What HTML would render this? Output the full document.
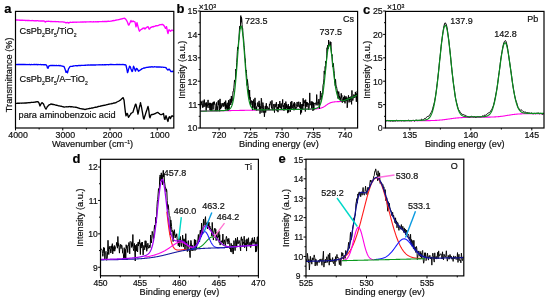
<!DOCTYPE html>
<html><head><meta charset="utf-8"><title>Figure</title>
<style>html,body{margin:0;padding:0;background:#fff;}svg{display:block;font-family:'Liberation Sans', Arial, sans-serif;}</style>
</head><body>
<svg width="550" height="303" viewBox="0 0 550 303">
<rect width="550" height="303" fill="#fff"/>
<polyline points="15.50,20.14 16.00,19.98 16.50,20.04 17.00,20.09 17.50,20.02 18.00,20.10 18.50,20.12 19.00,20.00 19.50,20.25 20.00,20.23 20.50,20.16 21.00,20.21 21.50,20.29 22.00,20.25 22.50,20.27 23.00,20.19 23.50,20.38 24.00,20.36 24.50,20.39 25.00,20.27 25.50,20.55 26.00,20.45 26.50,20.42 27.00,20.64 27.50,20.49 28.00,20.40 28.50,20.51 29.00,20.38 29.50,20.66 30.00,20.57 30.50,20.56 31.00,20.72 31.50,20.51 32.00,20.70 32.50,20.51 33.00,20.64 33.50,20.61 34.00,20.84 34.50,20.88 35.00,20.73 35.50,20.84 36.00,20.77 36.50,20.85 37.00,20.76 37.50,20.69 38.00,20.70 38.50,20.89 39.00,21.06 39.50,20.91 40.00,20.87 40.50,21.08 41.00,20.96 41.50,20.96 42.00,20.99 42.50,20.97 43.00,20.98 43.50,20.95 44.00,21.17 44.50,21.19 45.00,21.92 45.50,21.99 46.00,21.42 46.50,21.30 47.00,21.46 47.50,21.31 48.00,21.29 48.50,21.28 49.00,21.31 49.50,21.39 50.00,21.33 50.50,21.56 51.00,21.44 51.50,21.49 52.00,21.61 52.50,21.63 53.00,21.51 53.50,21.57 54.00,21.62 54.50,21.57 55.00,21.46 55.50,21.67 56.00,21.72 56.50,21.70 57.00,21.62 57.50,21.70 58.00,21.69 58.50,21.73 59.00,21.88 59.50,21.92 60.00,21.88 60.50,21.89 61.00,21.92 61.50,21.89 62.00,21.91 62.50,21.88 63.00,21.95 63.50,22.16 64.00,22.07 64.50,22.20 65.00,22.41 65.50,22.61 66.00,22.93 66.50,22.76 67.00,22.45 67.50,22.44 68.00,22.65 68.50,23.11 69.00,22.78 69.50,22.67 70.00,22.26 70.50,22.27 71.00,22.30 71.50,22.35 72.00,22.31 72.50,22.15 73.00,22.25 73.50,22.23 74.00,22.19 74.50,22.16 75.00,22.34 75.50,22.16 76.00,22.11 76.50,22.22 77.00,22.17 77.50,22.14 78.00,22.20 78.50,22.17 79.00,22.15 79.50,22.19 80.00,22.12 80.50,22.04 81.00,22.05 81.50,22.03 82.00,22.08 82.50,21.96 83.00,21.89 83.50,22.04 84.00,21.91 84.50,21.85 85.00,22.03 85.50,21.93 86.00,22.02 86.50,21.93 87.00,21.87 87.50,21.85 88.00,21.90 88.50,21.91 89.00,21.85 89.50,21.89 90.00,21.78 90.50,21.89 91.00,21.74 91.50,21.85 92.00,21.92 92.50,21.94 93.00,21.98 93.50,21.71 94.00,21.88 94.50,21.91 95.00,21.88 95.50,21.71 96.00,21.80 96.50,21.90 97.00,21.61 97.50,21.75 98.00,21.79 98.50,21.63 99.00,21.71 99.50,21.56 100.00,21.57 100.50,21.55 101.00,21.62 101.50,21.58 102.00,21.64 102.50,21.47 103.00,21.52 103.50,21.59 104.00,21.54 104.50,21.38 105.00,21.52 105.50,21.41 106.00,21.46 106.50,21.44 107.00,21.50 107.50,21.39 108.00,21.22 108.50,21.24 109.00,21.39 109.50,21.30 110.00,21.39 110.50,21.23 111.00,21.05 111.50,21.11 112.00,20.86 112.50,20.67 113.00,20.90 113.50,20.49 114.00,20.60 114.50,20.53 115.00,20.37 115.50,20.13 116.00,20.26 116.50,19.97 117.00,19.88 117.50,19.86 118.00,19.86 118.50,19.70 119.00,19.61 119.50,19.39 120.00,19.29 120.50,19.08 121.00,19.02 121.50,18.97 122.00,18.78 122.50,18.72 123.00,18.52 123.50,18.41 124.00,18.34 124.50,18.21 125.00,18.62 125.50,19.05 126.00,19.64 126.50,20.35 127.00,21.27 127.50,22.27 128.00,23.68 128.50,25.06 129.00,25.07 129.50,23.70 130.00,22.75 130.50,21.64 131.00,20.46 131.50,21.47 132.00,21.90 132.50,21.35 133.00,20.96 133.50,21.47 134.00,21.69 134.50,21.70 135.00,22.06 135.50,24.32 136.00,26.89 136.50,24.73 137.00,22.59 137.50,24.59 138.00,26.62 138.50,28.40 139.00,30.13 139.50,31.18 140.00,30.43 140.50,30.00 141.00,29.53 141.50,29.24 142.00,29.07 142.50,28.42 143.00,28.56 143.50,28.03 144.00,27.90 144.50,28.22 145.00,29.04 145.50,28.61 146.00,27.79 146.50,27.37 147.00,27.21 147.50,26.93 148.00,26.70 148.50,27.51 149.00,28.95 149.50,29.13 150.00,28.35 150.50,27.51 151.00,27.36 151.50,27.23 152.00,26.89 152.50,26.69 153.00,26.95 153.50,26.43 154.00,26.51 154.50,26.43 155.00,26.34 155.50,25.94 156.00,25.65 156.50,25.87 157.00,25.71 157.50,25.73 158.00,25.57 158.50,25.37 159.00,25.07 159.50,24.86 160.00,24.66 160.50,24.70 161.00,24.72 161.50,24.69 162.00,24.46 162.50,24.32 163.00,24.60 163.50,25.24 164.00,25.39 164.50,26.64 165.00,27.33 165.50,28.38 166.00,27.44 166.50,26.59 167.00,29.01 167.50,31.90 168.00,33.49 168.50,31.16 169.00,29.76 169.50,30.33 170.00,30.84 170.50,31.25 171.00,30.90 171.50,30.19 172.00,30.15 172.50,30.16 173.00,30.59 173.50,31.14" fill="none" stroke="#ff00ff" stroke-width="1.35" stroke-linejoin="round" />
<polyline points="15.50,64.43 16.00,64.38 16.50,64.49 17.00,64.57 17.50,64.48 18.00,64.46 18.50,64.55 19.00,64.29 19.50,64.46 20.00,64.41 20.50,64.54 21.00,64.46 21.50,64.44 22.00,64.50 22.50,64.41 23.00,64.53 23.50,64.48 24.00,64.50 24.50,64.48 25.00,64.61 25.50,64.53 26.00,64.58 26.50,64.58 27.00,64.48 27.50,64.59 28.00,64.58 28.50,64.58 29.00,64.52 29.50,64.52 30.00,64.62 30.50,64.74 31.00,64.50 31.50,64.61 32.00,64.54 32.50,64.63 33.00,64.61 33.50,64.66 34.00,64.35 34.50,64.53 35.00,64.50 35.50,64.57 36.00,64.53 36.50,64.53 37.00,64.64 37.50,64.74 38.00,64.37 38.50,64.57 39.00,64.62 39.50,64.60 40.00,64.57 40.50,64.51 41.00,64.56 41.50,64.71 42.00,64.75 42.50,64.69 43.00,64.63 43.50,64.72 44.00,64.71 44.50,64.79 45.00,64.78 45.50,64.73 46.00,64.82 46.50,65.31 47.00,66.07 47.50,67.97 48.00,68.31 48.50,66.93 49.00,65.84 49.50,65.79 50.00,65.57 50.50,65.49 51.00,65.59 51.50,65.48 52.00,65.47 52.50,65.48 53.00,65.52 53.50,65.51 54.00,65.55 54.50,65.50 55.00,65.61 55.50,65.64 56.00,65.52 56.50,65.45 57.00,65.63 57.50,65.67 58.00,65.57 58.50,65.48 59.00,65.61 59.50,65.72 60.00,65.45 60.50,65.75 61.00,65.80 61.50,65.87 62.00,66.09 62.50,66.06 63.00,66.30 63.50,66.49 64.00,66.51 64.50,67.78 65.00,69.05 65.50,70.61 66.00,72.35 66.50,71.38 67.00,71.19 67.50,72.92 68.00,70.90 68.50,68.91 69.00,68.14 69.50,67.23 70.00,66.63 70.50,66.37 71.00,66.30 71.50,66.31 72.00,66.34 72.50,66.26 73.00,66.04 73.50,66.03 74.00,65.95 74.50,65.91 75.00,65.82 75.50,65.70 76.00,65.65 76.50,65.73 77.00,65.60 77.50,65.78 78.00,65.64 78.50,65.53 79.00,65.56 79.50,65.52 80.00,65.52 80.50,65.58 81.00,65.36 81.50,65.30 82.00,65.45 82.50,65.39 83.00,65.39 83.50,65.38 84.00,65.31 84.50,65.36 85.00,65.20 85.50,65.25 86.00,65.15 86.50,65.10 87.00,65.21 87.50,65.18 88.00,64.95 88.50,64.99 89.00,65.08 89.50,65.11 90.00,64.95 90.50,64.98 91.00,64.87 91.50,65.17 92.00,65.00 92.50,65.02 93.00,64.99 93.50,65.00 94.00,64.97 94.50,64.88 95.00,64.96 95.50,64.90 96.00,64.98 96.50,64.81 97.00,64.82 97.50,64.90 98.00,64.94 98.50,64.84 99.00,64.76 99.50,64.80 100.00,64.76 100.50,64.94 101.00,64.85 101.50,64.87 102.00,64.78 102.50,64.71 103.00,64.83 103.50,64.86 104.00,64.77 104.50,64.71 105.00,64.79 105.50,64.66 106.00,64.74 106.50,64.61 107.00,64.58 107.50,64.70 108.00,64.67 108.50,64.78 109.00,64.60 109.50,64.61 110.00,64.51 110.50,64.45 111.00,64.45 111.50,64.62 112.00,64.49 112.50,64.67 113.00,64.69 113.50,64.55 114.00,64.70 114.50,64.58 115.00,64.65 115.50,64.54 116.00,64.63 116.50,64.47 117.00,64.59 117.50,64.50 118.00,64.52 118.50,64.58 119.00,64.54 119.50,64.51 120.00,64.57 120.50,64.58 121.00,64.40 121.50,64.55 122.00,64.55 122.50,64.48 123.00,64.61 123.50,64.51 124.00,64.77 124.50,64.67 125.00,64.72 125.50,64.87 126.00,65.26 126.50,67.52 127.00,69.91 127.50,72.69 128.00,71.67 128.50,69.36 129.00,67.91 129.50,66.24 130.00,66.31 130.50,67.52 131.00,69.01 131.50,70.25 132.00,71.61 132.50,71.16 133.00,68.89 133.50,66.26 134.00,67.16 134.50,68.44 135.00,69.90 135.50,71.16 136.00,69.64 136.50,68.33 137.00,68.59 137.50,69.38 138.00,70.19 138.50,71.26 139.00,70.78 139.50,70.70 140.00,70.11 140.50,69.88 141.00,69.45 141.50,69.29 142.00,68.66 142.50,68.59 143.00,68.41 143.50,68.21 144.00,67.91 144.50,67.96 145.00,68.04 145.50,67.75 146.00,67.51 146.50,67.38 147.00,67.33 147.50,67.35 148.00,67.21 148.50,67.23 149.00,67.04 149.50,67.10 150.00,66.95 150.50,67.00 151.00,66.96 151.50,66.95 152.00,66.68 152.50,66.84 153.00,67.10 153.50,66.98 154.00,66.82 154.50,66.74 155.00,66.92 155.50,66.93 156.00,66.83 156.50,67.02 157.00,66.92 157.50,67.12 158.00,66.91 158.50,67.01 159.00,66.97 159.50,66.99 160.00,67.19 160.50,67.19 161.00,66.94 161.50,67.30 162.00,67.21 162.50,67.11 163.00,67.16 163.50,67.33 164.00,67.46 164.50,67.36 165.00,67.35 165.50,67.55 166.00,67.75 166.50,68.41 167.00,69.13 167.50,69.76 168.00,70.07 168.50,69.35 169.00,69.18 169.50,69.39 170.00,70.24 170.50,70.83 171.00,71.69 171.50,71.60 172.00,71.37 172.50,71.29 173.00,71.57 173.50,71.11" fill="none" stroke="#0000ff" stroke-width="1.35" stroke-linejoin="round" />
<polyline points="15.50,103.37 16.00,103.35 16.50,103.43 17.00,103.34 17.50,103.24 18.00,103.18 18.50,103.22 19.00,103.26 19.50,103.24 20.00,103.19 20.50,103.13 21.00,103.15 21.50,103.23 22.00,103.04 22.50,103.11 23.00,103.21 23.50,103.11 24.00,103.01 24.50,103.07 25.00,102.94 25.50,102.96 26.00,103.04 26.50,103.02 27.00,102.69 27.50,102.84 28.00,102.89 28.50,102.65 29.00,102.67 29.50,102.73 30.00,102.52 30.50,102.55 31.00,102.47 31.50,102.28 32.00,102.42 32.50,102.33 33.00,102.37 33.50,102.41 34.00,102.23 34.50,102.09 35.00,102.10 35.50,102.02 36.00,102.02 36.50,101.76 37.00,101.73 37.50,101.60 38.00,101.75 38.50,102.35 39.00,102.95 39.50,104.44 40.00,105.95 40.50,104.93 41.00,103.97 41.50,103.21 42.00,102.61 42.50,103.03 43.00,103.43 43.50,103.95 44.00,105.26 44.50,106.37 45.00,107.52 45.50,108.31 46.00,109.13 46.50,108.07 47.00,107.27 47.50,106.36 48.00,106.04 48.50,105.47 49.00,104.95 49.50,104.69 50.00,104.56 50.50,104.24 51.00,103.96 51.50,104.21 52.00,104.13 52.50,104.22 53.00,104.64 53.50,104.51 54.00,104.61 54.50,104.70 55.00,104.86 55.50,105.04 56.00,105.14 56.50,105.24 57.00,105.28 57.50,105.30 58.00,105.57 58.50,105.79 59.00,105.87 59.50,105.89 60.00,106.09 60.50,106.12 61.00,106.27 61.50,106.29 62.00,106.49 62.50,106.65 63.00,106.74 63.50,106.94 64.00,107.15 64.50,107.07 65.00,106.91 65.50,106.84 66.00,106.81 66.50,106.76 67.00,106.80 67.50,106.80 68.00,106.75 68.50,106.72 69.00,106.68 69.50,106.62 70.00,106.54 70.50,106.79 71.00,106.78 71.50,106.68 72.00,106.73 72.50,106.80 73.00,106.90 73.50,107.05 74.00,107.08 74.50,107.14 75.00,107.19 75.50,107.24 76.00,107.26 76.50,107.40 77.00,107.52 77.50,107.55 78.00,107.84 78.50,108.16 79.00,108.13 79.50,108.29 80.00,108.58 80.50,108.60 81.00,108.64 81.50,108.89 82.00,108.91 82.50,109.01 83.00,108.99 83.50,109.17 84.00,109.25 84.50,109.37 85.00,109.49 85.50,109.39 86.00,109.21 86.50,109.16 87.00,108.91 87.50,108.95 88.00,108.85 88.50,108.67 89.00,108.54 89.50,108.50 90.00,108.30 90.50,108.33 91.00,108.22 91.50,108.02 92.00,108.00 92.50,107.97 93.00,107.86 93.50,107.74 94.00,107.54 94.50,107.41 95.00,107.29 95.50,107.26 96.00,107.29 96.50,107.10 97.00,107.00 97.50,106.87 98.00,106.52 98.50,106.52 99.00,106.39 99.50,106.41 100.00,106.34 100.50,106.04 101.00,105.98 101.50,105.91 102.00,105.72 102.50,105.60 103.00,105.49 103.50,105.50 104.00,105.25 104.50,105.30 105.00,105.11 105.50,105.05 106.00,105.00 106.50,104.72 107.00,104.59 107.50,104.58 108.00,104.36 108.50,104.27 109.00,104.21 109.50,104.12 110.00,103.90 110.50,103.86 111.00,103.82 111.50,103.77 112.00,103.39 112.50,103.53 113.00,103.39 113.50,103.12 114.00,102.97 114.50,103.01 115.00,102.83 115.50,102.76 116.00,102.60 116.50,102.23 117.00,101.99 117.50,101.74 118.00,101.49 118.50,101.28 119.00,101.00 119.50,100.61 120.00,100.29 120.50,100.12 121.00,99.53 121.50,99.07 122.00,98.50 122.50,98.20 123.00,97.63 123.50,98.63 124.00,99.89 124.50,104.46 125.00,109.00 125.50,112.83 126.00,115.78 126.50,114.61 127.00,113.39 127.50,113.74 128.00,115.74 128.50,117.39 129.00,116.70 129.50,115.66 130.00,115.08 130.50,114.36 131.00,113.43 131.50,113.18 132.00,112.81 132.50,112.48 133.00,112.11 133.50,110.24 134.00,108.84 134.50,107.31 135.00,105.70 135.50,104.11 136.00,104.43 136.50,106.77 137.00,108.78 137.50,111.63 138.00,114.20 138.50,111.96 139.00,109.43 139.50,106.98 140.00,104.98 140.50,102.65 141.00,105.26 141.50,107.07 142.00,110.00 142.50,112.66 143.00,115.82 143.50,118.49 144.00,118.97 144.50,117.07 145.00,115.84 145.50,114.10 146.00,112.50 146.50,111.02 147.00,109.60 147.50,108.07 148.00,106.35 148.50,108.38 149.00,112.03 149.50,116.60 150.00,117.87 150.50,116.25 151.00,114.95 151.50,114.69 152.00,114.51 152.50,114.67 153.00,114.41 153.50,114.43 154.00,113.91 154.50,113.86 155.00,113.58 155.50,113.47 156.00,113.05 156.50,112.89 157.00,112.56 157.50,112.51 158.00,112.53 158.50,113.02 159.00,113.37 159.50,113.68 160.00,114.18 160.50,114.60 161.00,114.60 161.50,114.55 162.00,114.31 162.50,114.11 163.00,113.92 163.50,113.50 164.00,116.32 164.50,119.17 165.00,119.21 165.50,117.35 166.00,115.59 166.50,117.19 167.00,118.75 167.50,120.36 168.00,121.43 168.50,119.18 169.00,117.20 169.50,116.65 170.00,117.73 170.50,118.57 171.00,117.43 171.50,116.06 172.00,115.87 172.50,115.86 173.00,116.23 173.50,116.82" fill="none" stroke="#000" stroke-width="1.35" stroke-linejoin="round" />
<rect x="15.50" y="11.40" width="158.30" height="116.60" fill="none" stroke="#000" stroke-width="1.2"/>
<line x1="15.50" y1="128.00" x2="15.50" y2="130.40" stroke="#000" stroke-width="1.0"/>
<text x="18.10" y="138.10" font-size="8.8" text-anchor="middle" font-weight="normal" fill="#111" stroke="#111" stroke-width="0.2" >4000</text>
<line x1="62.75" y1="128.00" x2="62.75" y2="130.40" stroke="#000" stroke-width="1.0"/>
<text x="65.35" y="138.10" font-size="8.8" text-anchor="middle" font-weight="normal" fill="#111" stroke="#111" stroke-width="0.2" >3000</text>
<line x1="110.01" y1="128.00" x2="110.01" y2="130.40" stroke="#000" stroke-width="1.0"/>
<text x="112.61" y="138.10" font-size="8.8" text-anchor="middle" font-weight="normal" fill="#111" stroke="#111" stroke-width="0.2" >2000</text>
<line x1="157.26" y1="128.00" x2="157.26" y2="130.40" stroke="#000" stroke-width="1.0"/>
<text x="159.86" y="138.10" font-size="8.8" text-anchor="middle" font-weight="normal" fill="#111" stroke="#111" stroke-width="0.2" >1000</text>
<line x1="39.13" y1="128.00" x2="39.13" y2="129.50" stroke="#000" stroke-width="1.0"/>
<line x1="86.38" y1="128.00" x2="86.38" y2="129.50" stroke="#000" stroke-width="1.0"/>
<line x1="133.63" y1="128.00" x2="133.63" y2="129.50" stroke="#000" stroke-width="1.0"/>
<text x="52.00" y="146.80" font-size="9.2" text-anchor="start" font-weight="normal" fill="#111" stroke="#111" stroke-width="0.2" >Wavenumber (cm<tspan dy="-3" font-size="5.2">−1</tspan><tspan dy="3">)</tspan></text>
<text transform="translate(11.90,74.80) rotate(-90)" font-size="9.2" text-anchor="middle" fill="#111" stroke="#111" stroke-width="0.2">Transmittance (%)</text>
<text x="4.20" y="13.20" font-size="13" text-anchor="start" font-weight="bold" fill="#000" stroke="#000" stroke-width="0.2" >a</text>
<text x="19.50" y="33.50" font-size="9.2" text-anchor="start" font-weight="normal" fill="#111" stroke="#111" stroke-width="0.2" >CsPb<tspan dy="3" font-size="5">2</tspan><tspan dy="-3">Br</tspan><tspan dy="3" font-size="5">5</tspan><tspan dy="-3">/TiO</tspan><tspan dy="3" font-size="5">2</tspan></text>
<text x="19.50" y="82.20" font-size="9.2" text-anchor="start" font-weight="normal" fill="#111" stroke="#111" stroke-width="0.2" >CsPb<tspan dy="3" font-size="5">2</tspan><tspan dy="-3">Br</tspan><tspan dy="3" font-size="5">5</tspan><tspan dy="-3">/A–TiO</tspan><tspan dy="3" font-size="5">2</tspan></text>
<text x="18.60" y="117.50" font-size="9.2" text-anchor="start" font-weight="normal" fill="#111" stroke="#111" stroke-width="0.2" >para aminobenzoic acid</text>
<polyline points="200.20,111.15 200.51,111.15 200.83,111.14 201.14,111.13 201.46,111.13 201.77,111.12 202.09,111.12 202.40,111.11 202.72,111.11 203.03,111.10 203.35,111.09 203.66,111.09 203.98,111.08 204.29,111.08 204.61,111.07 204.92,111.06 205.24,111.06 205.55,111.05 205.87,111.05 206.18,111.04 206.50,111.04 206.81,111.03 207.13,111.02 207.44,111.02 207.76,111.01 208.07,111.01 208.38,111.00 208.70,110.99 209.01,110.99 209.33,110.98 209.64,110.98 209.96,110.97 210.27,110.96 210.59,110.96 210.90,110.95 211.22,110.95 211.53,110.94 211.85,110.94 212.16,110.93 212.48,110.92 212.79,110.92 213.11,110.91 213.42,110.91 213.74,110.90 214.05,110.89 214.37,110.89 214.68,110.88 215.00,110.88 215.31,110.87 215.63,110.87 215.94,110.86 216.25,110.85 216.57,110.85 216.88,110.84 217.20,110.84 217.51,110.83 217.83,110.82 218.14,110.82 218.46,110.81 218.77,110.81 219.09,110.80 219.40,110.80 219.72,110.79 220.03,110.78 220.35,110.78 220.66,110.77 220.98,110.77 221.29,110.76 221.61,110.75 221.92,110.75 222.24,110.74 222.55,110.74 222.87,110.73 223.18,110.72 223.50,110.72 223.81,110.71 224.12,110.71 224.44,110.70 224.75,110.70 225.07,110.69 225.38,110.68 225.70,110.68 226.01,110.67 226.33,110.67 226.64,110.66 226.96,110.65 227.27,110.65 227.59,110.64 227.90,110.64 228.22,110.63 228.53,110.63 228.85,110.62 229.16,110.61 229.48,110.61 229.79,110.60 230.11,110.60 230.42,110.59 230.74,110.58 231.05,110.58 231.37,110.57 231.68,110.57 231.99,110.56 232.31,110.56 232.62,110.55 232.94,110.54 233.25,110.54 233.57,110.53 233.88,110.53 234.20,110.52 234.51,110.51 234.83,110.51 235.14,110.50 235.46,110.50 235.77,110.49 236.09,110.49 236.40,110.48 236.72,110.47 237.03,110.47 237.35,110.46 237.66,110.46 237.98,110.45 238.29,110.44 238.61,110.44 238.92,110.43 239.24,110.43 239.55,110.42 239.86,110.41 240.18,110.41 240.49,110.40 240.81,110.40 241.12,110.39 241.44,110.39 241.75,110.38 242.07,110.37 242.38,110.37 242.70,110.36 243.01,110.36 243.33,110.35 243.64,110.34 243.96,110.34 244.27,110.33 244.59,110.33 244.90,110.32 245.22,110.32 245.53,110.31 245.85,110.30 246.16,110.30 246.48,110.29 246.79,110.29 247.11,110.28 247.42,110.27 247.73,110.27 248.05,110.26 248.36,110.26 248.68,110.25 248.99,110.25 249.31,110.24 249.62,110.23 249.94,110.23 250.25,110.22 250.57,110.22 250.88,110.21 251.20,110.20 251.51,110.20 251.83,110.19 252.14,110.19 252.46,110.18 252.77,110.18 253.09,110.17 253.40,110.16 253.72,110.16 254.03,110.15 254.35,110.15 254.66,110.14 254.98,110.13 255.29,110.13 255.60,110.12 255.92,110.12 256.23,110.11 256.55,110.10 256.86,110.10 257.18,110.09 257.49,110.09 257.81,110.08 258.12,110.08 258.44,110.07 258.75,110.06 259.07,110.06 259.38,110.05 259.70,110.05 260.01,110.04 260.33,110.03 260.64,110.03 260.96,110.02 261.27,110.02 261.59,110.01 261.90,110.01 262.22,110.00 262.53,109.99 262.85,109.99 263.16,109.98 263.47,109.98 263.79,109.97 264.10,109.96 264.42,109.96 264.73,109.95 265.05,109.95 265.36,109.94 265.68,109.94 265.99,109.93 266.31,109.92 266.62,109.92 266.94,109.91 267.25,109.91 267.57,109.90 267.88,109.89 268.20,109.89 268.51,109.88 268.83,109.88 269.14,109.87 269.46,109.86 269.77,109.86 270.09,109.85 270.40,109.85 270.72,109.84 271.03,109.84 271.34,109.83 271.66,109.82 271.97,109.82 272.29,109.81 272.60,109.81 272.92,109.80 273.23,109.79 273.55,109.79 273.86,109.78 274.18,109.78 274.49,109.77 274.81,109.77 275.12,109.76 275.44,109.75 275.75,109.75 276.07,109.74 276.38,109.74 276.70,109.73 277.01,109.72 277.33,109.72 277.64,109.71 277.96,109.71 278.27,109.70 278.59,109.70 278.90,109.69 279.21,109.68 279.53,109.68 279.84,109.67 280.16,109.67 280.47,109.66 280.79,109.65 281.10,109.65 281.42,109.64 281.73,109.64 282.05,109.63 282.36,109.63 282.68,109.62 282.99,109.61 283.31,109.61 283.62,109.60 283.94,109.60 284.25,109.59 284.57,109.58 284.88,109.58 285.20,109.57 285.51,109.57 285.83,109.56 286.14,109.55 286.46,109.55 286.77,109.54 287.08,109.54 287.40,109.53 287.71,109.53 288.03,109.52 288.34,109.51 288.66,109.51 288.97,109.50 289.29,109.50 289.60,109.49 289.92,109.48 290.23,109.48 290.55,109.47 290.86,109.47 291.18,109.46 291.49,109.46 291.81,109.45 292.12,109.44 292.44,109.44 292.75,109.43 293.07,109.43 293.38,109.42 293.70,109.41 294.01,109.41 294.33,109.40 294.64,109.40 294.95,109.39 295.27,109.39 295.58,109.38 295.90,109.37 296.21,109.37 296.53,109.36 296.84,109.36 297.16,109.35 297.47,109.34 297.79,109.34 298.10,109.33 298.42,109.33 298.73,109.32 299.05,109.31 299.36,109.31 299.68,109.30 299.99,109.30 300.31,109.29 300.62,109.29 300.94,109.28 301.25,109.27 301.57,109.27 301.88,109.26 302.20,109.26 302.51,109.25 302.82,109.24 303.14,109.24 303.45,109.23 303.77,109.23 304.08,109.22 304.40,109.21 304.71,109.21 305.03,109.20 305.34,109.20 305.66,109.19 305.97,109.18 306.29,109.18 306.60,109.17 306.92,109.17 307.23,109.16 307.55,109.15 307.86,109.15 308.18,109.14 308.49,109.13 308.81,109.13 309.12,109.12 309.44,109.11 309.75,109.11 310.07,109.10 310.38,109.09 310.69,109.08 311.01,109.08 311.32,109.07 311.64,109.06 311.95,109.05 312.27,109.04 312.58,109.03 312.90,109.02 313.21,109.01 313.53,109.00 313.84,108.99 314.16,108.97 314.47,108.96 314.79,108.95 315.10,108.93 315.42,108.91 315.73,108.89 316.05,108.87 316.36,108.85 316.68,108.83 316.99,108.80 317.31,108.77 317.62,108.74 317.94,108.70 318.25,108.66 318.56,108.62 318.88,108.57 319.19,108.52 319.51,108.46 319.82,108.40 320.14,108.33 320.45,108.25 320.77,108.16 321.08,108.07 321.40,107.97 321.71,107.85 322.03,107.73 322.34,107.60 322.66,107.46 322.97,107.31 323.29,107.14 323.60,106.97 323.92,106.79 324.23,106.59 324.55,106.39 324.86,106.19 325.18,105.97 325.49,105.75 325.81,105.53 326.12,105.30 326.43,105.08 326.75,104.85 327.06,104.63 327.38,104.42 327.69,104.21 328.01,104.01 328.32,103.82 328.64,103.63 328.95,103.46 329.27,103.30 329.58,103.14 329.90,103.00 330.21,102.87 330.53,102.75 330.84,102.64 331.16,102.54 331.47,102.44 331.79,102.36 332.10,102.28 332.42,102.21 332.73,102.14 333.05,102.09 333.36,102.03 333.68,101.98 333.99,101.94 334.30,101.90 334.62,101.87 334.93,101.83 335.25,101.80 335.56,101.78 335.88,101.75 336.19,101.73 336.51,101.71 336.82,101.69 337.14,101.67 337.45,101.66 337.77,101.64 338.08,101.63 338.40,101.62 338.71,101.60 339.03,101.59 339.34,101.58 339.66,101.57 339.97,101.56 340.29,101.55 340.60,101.55 340.92,101.54 341.23,101.53 341.55,101.52 341.86,101.51 342.17,101.51 342.49,101.50 342.80,101.36 343.12,101.23 343.43,101.10 343.75,100.96 344.06,100.83 344.38,100.70 344.69,100.56 345.01,100.43 345.32,100.30 345.64,100.16 345.95,100.03 346.27,99.90 346.58,99.77 346.90,99.63 347.21,99.50 347.53,99.37 347.84,99.23 348.16,99.10 348.47,98.97 348.79,98.84 349.10,98.70 349.42,98.57 349.73,98.44 350.04,98.31 350.36,98.17 350.67,98.04 350.99,97.91 351.30,97.78 351.62,97.64 351.93,97.51 352.25,97.38 352.56,97.24 352.88,97.11 353.19,96.98 353.51,96.85 353.82,96.71 354.14,96.58 354.45,96.45 354.77,96.32 355.08,96.18 355.40,96.05 355.71,95.92 356.03,95.79 356.34,95.65 356.66,95.52 356.97,95.39 357.29,95.26 357.60,95.12" fill="none" stroke="#ff00e6" stroke-width="1.1" stroke-linejoin="round" />
<polyline points="200.20,104.41 200.51,109.21 200.83,100.82 201.14,102.36 201.46,101.91 201.77,104.89 202.09,104.41 202.40,106.23 202.72,107.71 203.03,100.66 203.35,106.65 203.66,107.00 203.98,106.88 204.29,99.59 204.61,102.69 204.92,106.63 205.24,105.61 205.55,103.85 205.87,102.68 206.18,110.54 206.50,102.59 206.81,106.13 207.13,107.61 207.44,106.67 207.76,102.94 208.07,99.88 208.38,104.97 208.70,103.67 209.01,108.00 209.33,103.88 209.64,102.83 209.96,110.13 210.27,107.04 210.59,102.92 210.90,110.98 211.22,106.60 211.53,103.52 211.85,110.76 212.16,106.67 212.48,105.24 212.79,102.60 213.11,109.46 213.42,101.91 213.74,104.45 214.05,101.64 214.37,101.74 214.68,104.34 215.00,103.88 215.31,110.91 215.63,109.68 215.94,108.59 216.25,106.52 216.57,102.47 216.88,111.05 217.20,106.43 217.51,109.59 217.83,110.34 218.14,100.76 218.46,105.11 218.77,100.26 219.09,101.68 219.40,108.33 219.72,111.28 220.03,98.88 220.35,106.70 220.66,109.04 220.98,103.24 221.29,104.99 221.61,107.54 221.92,106.51 222.24,104.91 222.55,105.18 222.87,103.03 223.18,106.53 223.50,106.49 223.81,103.51 224.12,104.41 224.44,101.93 224.75,106.17 225.07,105.68 225.38,109.01 225.70,100.60 226.01,109.72 226.33,104.65 226.64,108.07 226.96,104.15 227.27,102.80 227.59,110.26 227.90,105.67 228.22,110.44 228.53,100.32 228.85,105.99 229.16,109.37 229.48,106.35 229.79,99.69 230.11,98.76 230.42,99.01 230.74,104.97 231.05,102.35 231.37,95.97 231.68,102.59 231.99,100.34 232.31,101.14 232.62,100.49 232.94,91.50 233.25,91.63 233.57,90.30 233.88,87.79 234.20,84.07 234.51,79.99 234.83,82.03 235.14,80.12 235.46,79.12 235.77,69.13 236.09,70.68 236.40,70.16 236.72,62.57 237.03,57.87 237.35,51.53 237.66,47.23 237.98,49.00 238.29,45.59 238.61,40.55 238.92,39.88 239.24,33.02 239.55,27.92 239.86,26.11 240.18,28.53 240.49,24.93 240.81,15.60 241.12,22.34 241.44,17.32 241.75,19.15 242.07,24.43 242.38,29.36 242.70,28.67 243.01,35.42 243.33,36.55 243.64,39.12 243.96,45.25 244.27,47.33 244.59,51.30 244.90,57.99 245.22,58.48 245.53,63.66 245.85,71.13 246.16,70.06 246.48,73.38 246.79,77.74 247.11,85.51 247.42,79.52 247.73,82.58 248.05,85.24 248.36,88.61 248.68,95.73 248.99,93.28 249.31,98.32 249.62,90.00 249.94,99.90 250.25,97.32 250.57,105.37 250.88,105.08 251.20,103.82 251.51,100.56 251.83,101.62 252.14,102.92 252.46,110.10 252.77,101.02 253.09,107.81 253.40,100.04 253.72,99.46 254.03,102.94 254.35,102.59 254.66,109.84 254.98,97.83 255.29,105.42 255.60,103.06 255.92,109.03 256.23,106.62 256.55,110.26 256.86,107.35 257.18,106.64 257.49,105.96 257.81,102.45 258.12,105.42 258.44,106.25 258.75,106.99 259.07,100.84 259.38,109.10 259.70,103.60 260.01,113.63 260.33,110.29 260.64,106.29 260.96,108.17 261.27,98.24 261.59,99.66 261.90,112.68 262.22,111.33 262.53,108.45 262.85,102.56 263.16,104.53 263.47,107.13 263.79,112.68 264.10,110.92 264.42,116.77 264.73,113.17 265.05,106.99 265.36,105.86 265.68,112.49 265.99,108.04 266.31,103.24 266.62,107.86 266.94,109.34 267.25,106.43 267.57,106.67 267.88,108.06 268.20,109.98 268.51,109.60 268.83,107.93 269.14,109.91 269.46,103.92 269.77,105.26 270.09,104.59 270.40,101.57 270.72,102.92 271.03,103.37 271.34,106.62 271.66,108.33 271.97,100.39 272.29,109.72 272.60,109.48 272.92,110.20 273.23,106.70 273.55,105.99 273.86,103.99 274.18,107.88 274.49,112.58 274.81,106.03 275.12,103.90 275.44,106.81 275.75,107.27 276.07,105.01 276.38,102.20 276.70,106.88 277.01,111.10 277.33,108.34 277.64,107.04 277.96,112.15 278.27,103.99 278.59,108.80 278.90,104.73 279.21,105.68 279.53,107.24 279.84,101.08 280.16,107.96 280.47,108.28 280.79,105.20 281.10,103.45 281.42,106.08 281.73,109.15 282.05,103.84 282.36,104.09 282.68,99.42 282.99,106.65 283.31,105.26 283.62,107.71 283.94,110.60 284.25,105.65 284.57,103.18 284.88,109.06 285.20,107.97 285.51,109.54 285.83,101.58 286.14,107.80 286.46,103.95 286.77,108.51 287.08,105.52 287.40,107.73 287.71,113.15 288.03,105.48 288.34,104.05 288.66,112.29 288.97,106.24 289.29,107.05 289.60,109.07 289.92,106.45 290.23,111.77 290.55,104.84 290.86,101.87 291.18,109.60 291.49,105.80 291.81,101.08 292.12,105.19 292.44,107.20 292.75,108.43 293.07,104.98 293.38,105.94 293.70,103.52 294.01,110.30 294.33,102.08 294.64,106.75 294.95,103.43 295.27,107.73 295.58,109.54 295.90,107.21 296.21,108.42 296.53,106.58 296.84,103.34 297.16,101.96 297.47,104.71 297.79,107.05 298.10,106.75 298.42,103.44 298.73,101.71 299.05,106.30 299.36,105.67 299.68,107.63 299.99,104.59 300.31,102.20 300.62,114.39 300.94,104.39 301.25,106.92 301.57,112.52 301.88,104.16 302.20,105.42 302.51,103.95 302.82,109.42 303.14,98.34 303.45,104.72 303.77,106.14 304.08,100.22 304.40,102.96 304.71,102.38 305.03,101.32 305.34,111.52 305.66,99.68 305.97,106.04 306.29,104.02 306.60,101.99 306.92,107.14 307.23,103.87 307.55,102.44 307.86,104.97 308.18,103.25 308.49,109.87 308.81,108.54 309.12,108.39 309.44,103.57 309.75,92.90 310.07,103.87 310.38,105.15 310.69,104.87 311.01,101.54 311.32,102.37 311.64,108.22 311.95,101.37 312.27,104.63 312.58,101.95 312.90,110.82 313.21,109.40 313.53,102.57 313.84,110.11 314.16,103.16 314.47,103.29 314.79,103.85 315.10,103.14 315.42,103.37 315.73,102.72 316.05,105.34 316.36,104.03 316.68,94.59 316.99,100.12 317.31,101.61 317.62,102.11 317.94,105.41 318.25,102.11 318.56,103.27 318.88,99.10 319.19,104.51 319.51,108.53 319.82,102.19 320.14,97.48 320.45,91.06 320.77,94.61 321.08,99.83 321.40,96.18 321.71,97.09 322.03,93.12 322.34,93.66 322.66,94.14 322.97,85.51 323.29,84.11 323.60,82.93 323.92,78.84 324.23,70.92 324.55,74.29 324.86,73.10 325.18,66.37 325.49,71.48 325.81,61.11 326.12,63.18 326.43,60.62 326.75,55.10 327.06,47.66 327.38,52.91 327.69,45.30 328.01,45.04 328.32,48.80 328.64,40.05 328.95,44.55 329.27,46.13 329.58,44.13 329.90,44.61 330.21,41.60 330.53,47.29 330.84,42.03 331.16,47.99 331.47,53.05 331.79,55.62 332.10,54.57 332.42,64.12 332.73,67.08 333.05,65.55 333.36,63.35 333.68,67.37 333.99,70.43 334.30,73.70 334.62,82.35 334.93,78.86 335.25,85.70 335.56,79.59 335.88,84.26 336.19,86.39 336.51,86.57 336.82,88.40 337.14,90.13 337.45,91.07 337.77,95.20 338.08,98.60 338.40,94.23 338.71,91.55 339.03,93.63 339.34,98.11 339.66,96.03 339.97,99.81 340.29,97.60 340.60,101.07 340.92,98.99 341.23,93.35 341.55,97.43 341.86,95.31 342.17,102.64 342.49,102.48 342.80,100.42 343.12,98.50 343.43,100.86 343.75,96.94 344.06,101.81 344.38,95.69 344.69,96.85 345.01,103.34 345.32,97.87 345.64,100.32 345.95,96.29 346.27,101.10 346.58,98.31 346.90,97.46 347.21,107.77 347.53,104.89 347.84,98.43 348.16,99.11 348.47,95.38 348.79,97.76 349.10,102.36 349.42,97.19 349.73,100.47 350.04,98.70 350.36,99.46 350.67,96.62 350.99,102.08 351.30,101.00 351.62,104.36 351.93,90.43 352.25,100.23 352.56,99.68 352.88,100.46 353.19,98.72 353.51,97.94 353.82,94.48 354.14,95.74 354.45,95.12 354.77,97.90 355.08,96.13 355.40,91.92 355.71,95.71 356.03,94.54 356.34,101.78 356.66,93.61 356.97,94.29 357.29,90.91 357.60,103.54" fill="none" stroke="#000" stroke-width="1.0" stroke-linejoin="round" />
<polyline points="200.20,111.15 200.51,111.15 200.83,111.14 201.14,111.13 201.46,111.13 201.77,111.12 202.09,111.12 202.40,111.11 202.72,111.11 203.03,111.10 203.35,111.09 203.66,111.09 203.98,111.08 204.29,111.08 204.61,111.07 204.92,111.06 205.24,111.06 205.55,111.05 205.87,111.05 206.18,111.04 206.50,111.03 206.81,111.03 207.13,111.02 207.44,111.02 207.76,111.01 208.07,111.01 208.38,111.00 208.70,110.99 209.01,110.99 209.33,110.98 209.64,110.98 209.96,110.97 210.27,110.96 210.59,110.96 210.90,110.95 211.22,110.95 211.53,110.94 211.85,110.94 212.16,110.93 212.48,110.92 212.79,110.92 213.11,110.91 213.42,110.91 213.74,110.90 214.05,110.89 214.37,110.89 214.68,110.88 215.00,110.88 215.31,110.87 215.63,110.86 215.94,110.86 216.25,110.85 216.57,110.84 216.88,110.84 217.20,110.83 217.51,110.82 217.83,110.82 218.14,110.81 218.46,110.80 218.77,110.79 219.09,110.78 219.40,110.77 219.72,110.77 220.03,110.76 220.35,110.74 220.66,110.73 220.98,110.72 221.29,110.71 221.61,110.69 221.92,110.68 222.24,110.66 222.55,110.65 222.87,110.63 223.18,110.61 223.50,110.58 223.81,110.56 224.12,110.53 224.44,110.50 224.75,110.47 225.07,110.44 225.38,110.40 225.70,110.35 226.01,110.31 226.33,110.25 226.64,110.19 226.96,110.13 227.27,110.05 227.59,109.97 227.90,109.87 228.22,109.76 228.53,109.63 228.85,109.48 229.16,109.31 229.48,109.10 229.79,108.86 230.11,108.57 230.42,108.22 230.74,107.81 231.05,107.33 231.37,106.75 231.68,106.07 231.99,105.26 232.31,104.32 232.62,103.22 232.94,101.94 233.25,100.47 233.57,98.79 233.88,96.88 234.20,94.72 234.51,92.31 234.83,89.64 235.14,86.70 235.46,83.51 235.77,80.06 236.09,76.39 236.40,72.51 236.72,68.46 237.03,64.28 237.35,60.02 237.66,55.74 237.98,51.51 238.29,47.39 238.61,43.44 238.92,39.75 239.24,36.39 239.55,33.41 239.86,30.88 240.18,28.85 240.49,27.36 240.81,26.46 241.12,26.15 241.44,26.45 241.75,27.34 242.07,28.81 242.38,30.83 242.70,33.35 243.01,36.32 243.33,39.67 243.64,43.35 243.96,47.28 244.27,51.39 244.59,55.62 244.90,59.88 245.22,64.12 245.53,68.29 245.85,72.33 246.16,76.20 246.48,79.86 246.79,83.30 247.11,86.48 247.42,89.41 247.73,92.07 248.05,94.47 248.36,96.61 248.68,98.51 248.99,100.18 249.31,101.64 249.62,102.90 249.94,103.99 250.25,104.92 250.57,105.72 250.88,106.39 251.20,106.95 251.51,107.43 251.83,107.82 252.14,108.16 252.46,108.44 252.77,108.67 253.09,108.86 253.40,109.03 253.72,109.17 254.03,109.28 254.35,109.38 254.66,109.47 254.98,109.54 255.29,109.60 255.60,109.66 255.92,109.70 256.23,109.74 256.55,109.78 256.86,109.81 257.18,109.84 257.49,109.86 257.81,109.88 258.12,109.90 258.44,109.92 258.75,109.93 259.07,109.94 259.38,109.95 259.70,109.96 260.01,109.96 260.33,109.97 260.64,109.97 260.96,109.97 261.27,109.97 261.59,109.97 261.90,109.97 262.22,109.97 262.53,109.97 262.85,109.97 263.16,109.96 263.47,109.96 263.79,109.96 264.10,109.95 264.42,109.95 264.73,109.95 265.05,109.94 265.36,109.94 265.68,109.93 265.99,109.93 266.31,109.92 266.62,109.92 266.94,109.91 267.25,109.90 267.57,109.90 267.88,109.89 268.20,109.89 268.51,109.88 268.83,109.88 269.14,109.87 269.46,109.86 269.77,109.86 270.09,109.85 270.40,109.85 270.72,109.84 271.03,109.84 271.34,109.83 271.66,109.82 271.97,109.82 272.29,109.81 272.60,109.81 272.92,109.80 273.23,109.79 273.55,109.79 273.86,109.78 274.18,109.78 274.49,109.77 274.81,109.77 275.12,109.76 275.44,109.75 275.75,109.75 276.07,109.74 276.38,109.74 276.70,109.73 277.01,109.72 277.33,109.72 277.64,109.71 277.96,109.71 278.27,109.70 278.59,109.70 278.90,109.69 279.21,109.68 279.53,109.68 279.84,109.67 280.16,109.67 280.47,109.66 280.79,109.65 281.10,109.65 281.42,109.64 281.73,109.64 282.05,109.63 282.36,109.63 282.68,109.62 282.99,109.61 283.31,109.61 283.62,109.60 283.94,109.60 284.25,109.59 284.57,109.58 284.88,109.58 285.20,109.57 285.51,109.57 285.83,109.56 286.14,109.55 286.46,109.55 286.77,109.54 287.08,109.54 287.40,109.53 287.71,109.53 288.03,109.52 288.34,109.51 288.66,109.51 288.97,109.50 289.29,109.50 289.60,109.49 289.92,109.48 290.23,109.48 290.55,109.47 290.86,109.47 291.18,109.46 291.49,109.46 291.81,109.45 292.12,109.44 292.44,109.44 292.75,109.43 293.07,109.43 293.38,109.42 293.70,109.41 294.01,109.41 294.33,109.40 294.64,109.40 294.95,109.39 295.27,109.39 295.58,109.38 295.90,109.37 296.21,109.37 296.53,109.36 296.84,109.36 297.16,109.35 297.47,109.34 297.79,109.34 298.10,109.33 298.42,109.33 298.73,109.32 299.05,109.31 299.36,109.31 299.68,109.30 299.99,109.30 300.31,109.29 300.62,109.29 300.94,109.28 301.25,109.27 301.57,109.27 301.88,109.26 302.20,109.26 302.51,109.25 302.82,109.24 303.14,109.24 303.45,109.23 303.77,109.22 304.08,109.22 304.40,109.21 304.71,109.21 305.03,109.20 305.34,109.19 305.66,109.18 305.97,109.18 306.29,109.17 306.60,109.16 306.92,109.16 307.23,109.15 307.55,109.14 307.86,109.13 308.18,109.12 308.49,109.11 308.81,109.10 309.12,109.09 309.44,109.08 309.75,109.06 310.07,109.05 310.38,109.04 310.69,109.02 311.01,109.00 311.32,108.99 311.64,108.97 311.95,108.94 312.27,108.92 312.58,108.89 312.90,108.87 313.21,108.83 313.53,108.80 313.84,108.76 314.16,108.72 314.47,108.67 314.79,108.62 315.10,108.56 315.42,108.50 315.73,108.43 316.05,108.34 316.36,108.25 316.68,108.14 316.99,108.01 317.31,107.86 317.62,107.69 317.94,107.49 318.25,107.25 318.56,106.98 318.88,106.65 319.19,106.26 319.51,105.81 319.82,105.27 320.14,104.65 320.45,103.92 320.77,103.07 321.08,102.10 321.40,100.98 321.71,99.70 322.03,98.26 322.34,96.63 322.66,94.82 322.97,92.81 323.29,90.62 323.60,88.23 323.92,85.66 324.23,82.92 324.55,80.02 324.86,77.01 325.18,73.89 325.49,70.72 325.81,67.53 326.12,64.37 326.43,61.29 326.75,58.33 327.06,55.55 327.38,53.00 327.69,50.73 328.01,48.77 328.32,47.18 328.64,45.97 328.95,45.17 329.27,44.80 329.58,44.85 329.90,45.34 330.21,46.23 330.53,47.51 330.84,49.16 331.16,51.12 331.47,53.36 331.79,55.83 332.10,58.49 332.42,61.28 332.73,64.15 333.05,67.06 333.36,69.96 333.68,72.81 333.99,75.57 334.30,78.22 334.62,80.74 334.93,83.09 335.25,85.28 335.56,87.29 335.88,89.11 336.19,90.76 336.51,92.23 336.82,93.54 337.14,94.69 337.45,95.69 337.77,96.55 338.08,97.30 338.40,97.94 338.71,98.48 339.03,98.94 339.34,99.32 339.66,99.65 339.97,99.92 340.29,100.14 340.60,100.33 340.92,100.49 341.23,100.62 341.55,100.73 341.86,100.82 342.17,100.90 342.49,100.97 342.80,100.90 343.12,100.82 343.43,100.73 343.75,100.64 344.06,100.54 344.38,100.44 344.69,100.34 345.01,100.23 345.32,100.12 345.64,100.01 345.95,99.89 346.27,99.78 346.58,99.66 346.90,99.54 347.21,99.42 347.53,99.30 347.84,99.17 348.16,99.05 348.47,98.92 348.79,98.80 349.10,98.67 349.42,98.54 349.73,98.41 350.04,98.28 350.36,98.15 350.67,98.02 350.99,97.89 351.30,97.76 351.62,97.63 351.93,97.50 352.25,97.37 352.56,97.24 352.88,97.11 353.19,96.98 353.51,96.84 353.82,96.71 354.14,96.58 354.45,96.45 354.77,96.31 355.08,96.18 355.40,96.05 355.71,95.92 356.03,95.79 356.34,95.65 356.66,95.52 356.97,95.39 357.29,95.26 357.60,95.12" fill="none" stroke="#0a8a1e" stroke-width="1.2" stroke-linejoin="round" />
<rect x="200.20" y="11.40" width="157.40" height="116.60" fill="none" stroke="#000" stroke-width="1.2"/>
<line x1="219.09" y1="128.00" x2="219.09" y2="130.40" stroke="#000" stroke-width="1.0"/>
<text x="219.09" y="137.60" font-size="8.8" text-anchor="middle" font-weight="normal" fill="#111" stroke="#111" stroke-width="0.2" >720</text>
<line x1="250.57" y1="128.00" x2="250.57" y2="130.40" stroke="#000" stroke-width="1.0"/>
<text x="250.57" y="137.60" font-size="8.8" text-anchor="middle" font-weight="normal" fill="#111" stroke="#111" stroke-width="0.2" >725</text>
<line x1="282.05" y1="128.00" x2="282.05" y2="130.40" stroke="#000" stroke-width="1.0"/>
<text x="282.05" y="137.60" font-size="8.8" text-anchor="middle" font-weight="normal" fill="#111" stroke="#111" stroke-width="0.2" >730</text>
<line x1="313.53" y1="128.00" x2="313.53" y2="130.40" stroke="#000" stroke-width="1.0"/>
<text x="313.53" y="137.60" font-size="8.8" text-anchor="middle" font-weight="normal" fill="#111" stroke="#111" stroke-width="0.2" >735</text>
<line x1="345.01" y1="128.00" x2="345.01" y2="130.40" stroke="#000" stroke-width="1.0"/>
<text x="345.01" y="137.60" font-size="8.8" text-anchor="middle" font-weight="normal" fill="#111" stroke="#111" stroke-width="0.2" >740</text>
<line x1="234.83" y1="128.00" x2="234.83" y2="129.50" stroke="#000" stroke-width="1.0"/>
<line x1="266.31" y1="128.00" x2="266.31" y2="129.50" stroke="#000" stroke-width="1.0"/>
<line x1="297.79" y1="128.00" x2="297.79" y2="129.50" stroke="#000" stroke-width="1.0"/>
<line x1="329.27" y1="128.00" x2="329.27" y2="129.50" stroke="#000" stroke-width="1.0"/>
<line x1="200.20" y1="128.00" x2="197.80" y2="128.00" stroke="#000" stroke-width="1.0"/>
<text x="197.40" y="131.40" font-size="8.8" text-anchor="end" font-weight="normal" fill="#111" stroke="#111" stroke-width="0.2" >10</text>
<line x1="200.20" y1="104.60" x2="197.80" y2="104.60" stroke="#000" stroke-width="1.0"/>
<text x="197.40" y="108.00" font-size="8.8" text-anchor="end" font-weight="normal" fill="#111" stroke="#111" stroke-width="0.2" >11</text>
<line x1="200.20" y1="81.20" x2="197.80" y2="81.20" stroke="#000" stroke-width="1.0"/>
<text x="197.40" y="84.60" font-size="8.8" text-anchor="end" font-weight="normal" fill="#111" stroke="#111" stroke-width="0.2" >12</text>
<line x1="200.20" y1="57.80" x2="197.80" y2="57.80" stroke="#000" stroke-width="1.0"/>
<text x="197.40" y="61.20" font-size="8.8" text-anchor="end" font-weight="normal" fill="#111" stroke="#111" stroke-width="0.2" >13</text>
<line x1="200.20" y1="34.40" x2="197.80" y2="34.40" stroke="#000" stroke-width="1.0"/>
<text x="197.40" y="37.80" font-size="8.8" text-anchor="end" font-weight="normal" fill="#111" stroke="#111" stroke-width="0.2" >14</text>
<line x1="200.20" y1="11.00" x2="197.80" y2="11.00" stroke="#000" stroke-width="1.0"/>
<text x="197.40" y="14.40" font-size="8.8" text-anchor="end" font-weight="normal" fill="#111" stroke="#111" stroke-width="0.2" >15</text>
<line x1="200.20" y1="116.30" x2="198.70" y2="116.30" stroke="#000" stroke-width="1.0"/>
<line x1="200.20" y1="92.90" x2="198.70" y2="92.90" stroke="#000" stroke-width="1.0"/>
<line x1="200.20" y1="69.50" x2="198.70" y2="69.50" stroke="#000" stroke-width="1.0"/>
<line x1="200.20" y1="46.10" x2="198.70" y2="46.10" stroke="#000" stroke-width="1.0"/>
<line x1="200.20" y1="22.70" x2="198.70" y2="22.70" stroke="#000" stroke-width="1.0"/>
<text x="278.90" y="146.50" font-size="9.2" text-anchor="middle" font-weight="normal" fill="#111" stroke="#111" stroke-width="0.2" >Binding energy (ev)</text>
<text transform="translate(185.00,69.70) rotate(-90)" font-size="9.2" text-anchor="middle" fill="#111" stroke="#111" stroke-width="0.2">Intensity (a.u.)</text>
<text x="176.60" y="13.40" font-size="13" text-anchor="start" font-weight="bold" fill="#000" stroke="#000" stroke-width="0.2" >b</text>
<text x="343.00" y="21.50" font-size="9.0" text-anchor="start" font-weight="normal" fill="#111" stroke="#111" stroke-width="0.2" >Cs</text>
<text x="198.80" y="10.30" font-size="8.5" text-anchor="start" font-weight="normal" fill="#111" stroke="#111" stroke-width="0.2" >×10<tspan dy="-2.8" font-size="5.2">3</tspan></text>
<text x="245.00" y="23.50" font-size="9.0" text-anchor="start" font-weight="normal" fill="#111" stroke="#111" stroke-width="0.2" >723.5</text>
<text x="319.40" y="34.80" font-size="9.0" text-anchor="start" font-weight="normal" fill="#111" stroke="#111" stroke-width="0.2" >737.5</text>
<polyline points="385.50,120.75 385.99,120.75 386.48,120.75 386.96,120.75 387.45,120.75 387.94,120.75 388.43,120.75 388.91,120.75 389.40,120.75 389.89,120.75 390.38,120.75 390.86,120.75 391.35,120.75 391.84,120.75 392.33,120.75 392.82,120.75 393.30,120.75 393.79,120.75 394.28,120.75 394.77,120.75 395.25,120.75 395.74,120.75 396.23,120.75 396.72,120.75 397.20,120.75 397.69,120.75 398.18,120.75 398.67,120.75 399.16,120.74 399.64,120.74 400.13,120.74 400.62,120.74 401.11,120.74 401.59,120.74 402.08,120.74 402.57,120.74 403.06,120.74 403.54,120.74 404.03,120.74 404.52,120.74 405.01,120.74 405.50,120.74 405.98,120.74 406.47,120.74 406.96,120.74 407.45,120.74 407.93,120.74 408.42,120.74 408.91,120.74 409.40,120.74 409.88,120.74 410.37,120.74 410.86,120.74 411.35,120.74 411.84,120.74 412.32,120.74 412.81,120.74 413.30,120.74 413.79,120.73 414.27,120.73 414.76,120.73 415.25,120.73 415.74,120.73 416.22,120.73 416.71,120.73 417.20,120.73 417.69,120.73 418.18,120.72 418.66,120.72 419.15,120.72 419.64,120.72 420.13,120.71 420.61,120.71 421.10,120.71 421.59,120.71 422.08,120.70 422.56,120.70 423.05,120.70 423.54,120.69 424.03,120.69 424.52,120.68 425.00,120.68 425.49,120.67 425.98,120.67 426.47,120.66 426.95,120.65 427.44,120.65 427.93,120.64 428.42,120.63 428.90,120.62 429.39,120.61 429.88,120.60 430.37,120.59 430.86,120.57 431.34,120.56 431.83,120.54 432.32,120.53 432.81,120.51 433.29,120.49 433.78,120.47 434.27,120.45 434.76,120.43 435.24,120.41 435.73,120.38 436.22,120.36 436.71,120.33 437.20,120.30 437.68,120.26 438.17,120.23 438.66,120.19 439.15,120.16 439.63,120.12 440.12,120.07 440.61,120.03 441.10,119.98 441.58,119.93 442.07,119.88 442.56,119.83 443.05,119.77 443.54,119.72 444.02,119.66 444.51,119.60 445.00,119.53 445.49,119.47 445.97,119.40 446.46,119.34 446.95,119.27 447.44,119.20 447.92,119.13 448.41,119.06 448.90,118.99 449.39,118.92 449.88,118.85 450.36,118.78 450.85,118.71 451.34,118.64 451.83,118.58 452.31,118.51 452.80,118.45 453.29,118.38 453.78,118.32 454.26,118.26 454.75,118.21 455.24,118.15 455.73,118.10 456.22,118.05 456.70,118.00 457.19,117.95 457.68,117.91 458.17,117.87 458.65,117.83 459.14,117.79 459.63,117.75 460.12,117.72 460.60,117.68 461.09,117.65 461.58,117.62 462.07,117.60 462.56,117.57 463.04,117.55 463.53,117.53 464.02,117.51 464.51,117.49 464.99,117.47 465.48,117.45 465.97,117.44 466.46,117.42 466.94,117.41 467.43,117.39 467.92,117.38 468.41,117.37 468.90,117.36 469.38,117.35 469.87,117.34 470.36,117.33 470.85,117.32 471.33,117.32 471.82,117.31 472.31,117.30 472.80,117.30 473.28,117.29 473.77,117.29 474.26,117.28 474.75,117.28 475.24,117.27 475.72,117.27 476.21,117.26 476.70,117.26 477.19,117.25 477.67,117.25 478.16,117.25 478.65,117.24 479.14,117.24 479.62,117.24 480.11,117.23 480.60,117.23 481.09,117.22 481.58,117.22 482.06,117.22 482.55,117.21 483.04,117.21 483.53,117.20 484.01,117.20 484.50,117.19 484.99,117.19 485.48,117.18 485.96,117.17 486.45,117.17 486.94,117.16 487.43,117.15 487.92,117.14 488.40,117.13 488.89,117.12 489.38,117.11 489.87,117.10 490.35,117.08 490.84,117.07 491.33,117.05 491.82,117.04 492.30,117.02 492.79,117.00 493.28,116.98 493.77,116.96 494.26,116.93 494.74,116.91 495.23,116.88 495.72,116.85 496.21,116.82 496.69,116.78 497.18,116.75 497.67,116.71 498.16,116.67 498.64,116.62 499.13,116.58 499.62,116.53 500.11,116.48 500.60,116.42 501.08,116.36 501.57,116.30 502.06,116.24 502.55,116.17 503.03,116.10 503.52,116.03 504.01,115.96 504.50,115.89 504.98,115.81 505.47,115.73 505.96,115.65 506.45,115.57 506.94,115.49 507.42,115.41 507.91,115.33 508.40,115.25 508.89,115.17 509.37,115.09 509.86,115.01 510.35,114.94 510.84,114.86 511.32,114.79 511.81,114.72 512.30,114.65 512.79,114.58 513.28,114.52 513.76,114.46 514.25,114.40 514.74,114.35 515.23,114.29 515.71,114.25 516.20,114.20 516.69,114.15 517.18,114.11 517.66,114.07 518.15,114.04 518.64,114.00 519.13,113.97 519.62,113.94 520.10,113.91 520.59,113.89 521.08,113.87 521.57,113.84 522.05,113.82 522.54,113.80 523.03,113.79 523.52,113.77 524.00,113.76 524.49,113.74 524.98,113.73 525.47,113.72 525.96,113.71 526.44,113.70 526.93,113.69 527.42,113.68 527.91,113.67 528.39,113.66 528.88,113.66 529.37,113.65 529.86,113.65 530.34,113.64 530.83,113.64 531.32,113.63 531.81,113.63 532.30,113.62 532.78,113.62 533.27,113.62 533.76,113.62 534.25,113.61 534.73,113.61 535.22,113.61 535.71,113.61 536.20,113.60 536.68,113.60 537.17,113.60 537.66,113.60 538.15,113.60 538.64,113.60 539.12,113.60 539.61,113.60 540.10,113.60 540.59,113.59 541.07,113.59 541.56,113.59 542.05,113.59 542.54,113.59 543.02,113.59 543.51,113.59 544.00,113.59" fill="none" stroke="#ff00e6" stroke-width="1.1" stroke-linejoin="round" />
<polyline points="385.50,120.70 385.99,120.68 386.48,120.80 386.96,120.77 387.45,120.46 387.94,120.50 388.43,120.73 388.91,120.79 389.40,120.81 389.89,120.75 390.38,120.83 390.86,121.30 391.35,120.81 391.84,120.76 392.33,121.10 392.82,120.99 393.30,121.03 393.79,120.95 394.28,120.89 394.77,120.86 395.25,121.15 395.74,120.89 396.23,120.27 396.72,120.26 397.20,120.55 397.69,120.87 398.18,120.91 398.67,120.56 399.16,120.69 399.64,120.59 400.13,120.44 400.62,120.57 401.11,120.67 401.59,120.86 402.08,120.69 402.57,120.49 403.06,120.46 403.54,120.78 404.03,121.03 404.52,120.79 405.01,121.05 405.50,120.80 405.98,120.29 406.47,120.52 406.96,120.76 407.45,120.57 407.93,120.47 408.42,120.21 408.91,120.05 409.40,120.83 409.88,120.75 410.37,120.52 410.86,120.81 411.35,120.74 411.84,120.64 412.32,120.52 412.81,120.31 413.30,120.25 413.79,120.59 414.27,121.00 414.76,121.01 415.25,120.60 415.74,120.20 416.22,119.85 416.71,120.35 417.20,120.72 417.69,120.44 418.18,120.52 418.66,120.40 419.15,120.31 419.64,120.35 420.13,120.37 420.61,120.13 421.10,119.63 421.59,119.23 422.08,119.45 422.56,119.91 423.05,119.67 423.54,119.41 424.03,118.88 424.52,118.62 425.00,118.57 425.49,118.39 425.98,118.18 426.47,117.49 426.95,116.70 427.44,116.53 427.93,116.40 428.42,116.30 428.90,116.20 429.39,115.40 429.88,114.66 430.37,113.72 430.86,112.70 431.34,112.30 431.83,111.30 432.32,109.99 432.81,108.29 433.29,106.34 433.78,104.85 434.27,102.82 434.76,100.43 435.24,97.66 435.73,94.78 436.22,91.26 436.71,87.40 437.20,83.49 437.68,79.39 438.17,75.02 438.66,70.61 439.15,65.25 439.63,60.46 440.12,56.60 440.61,51.47 441.10,46.44 441.58,42.39 442.07,38.86 442.56,35.12 443.05,31.52 443.54,28.44 444.02,25.92 444.51,23.87 445.00,22.72 445.49,23.04 445.97,23.90 446.46,25.05 446.95,27.05 447.44,30.10 447.92,33.93 448.41,37.48 448.90,41.04 449.39,45.69 449.88,50.12 450.36,54.25 450.85,59.46 451.34,64.92 451.83,69.62 452.31,73.85 452.80,77.93 453.29,82.37 453.78,85.83 454.26,88.53 454.75,92.60 455.24,96.62 455.73,99.24 456.22,101.17 456.70,102.99 457.19,104.82 457.68,106.82 458.17,108.85 458.65,109.88 459.14,110.24 459.63,111.27 460.12,112.10 460.60,112.57 461.09,113.17 461.58,113.89 462.07,114.10 462.56,114.46 463.04,114.47 463.53,114.58 464.02,115.01 464.51,115.17 464.99,115.38 465.48,115.43 465.97,115.57 466.46,115.86 466.94,116.51 467.43,116.52 467.92,116.35 468.41,116.75 468.90,116.93 469.38,117.06 469.87,116.95 470.36,116.71 470.85,116.79 471.33,116.14 471.82,116.15 472.31,116.69 472.80,116.60 473.28,116.74 473.77,117.03 474.26,116.80 474.75,116.43 475.24,117.31 475.72,117.58 476.21,116.98 476.70,117.06 477.19,116.68 477.67,116.66 478.16,116.72 478.65,116.70 479.14,116.96 479.62,116.62 480.11,116.64 480.60,116.78 481.09,116.78 481.58,116.85 482.06,116.32 482.55,115.85 483.04,116.13 483.53,116.38 484.01,115.34 484.50,115.02 484.99,115.60 485.48,115.10 485.96,114.83 486.45,114.78 486.94,114.11 487.43,113.51 487.92,113.44 488.40,113.02 488.89,112.63 489.38,112.58 489.87,112.07 490.35,111.54 490.84,110.79 491.33,109.91 491.82,109.34 492.30,108.36 492.79,107.12 493.28,105.94 493.77,104.28 494.26,102.12 494.74,100.01 495.23,97.70 495.72,94.92 496.21,92.50 496.69,90.05 497.18,87.08 497.67,83.53 498.16,79.65 498.64,75.73 499.13,72.53 499.62,68.94 500.11,64.65 500.60,60.61 501.08,57.23 501.57,54.37 502.06,51.54 502.55,48.77 503.03,46.08 503.52,43.99 504.01,42.32 504.50,41.40 504.98,40.81 505.47,40.62 505.96,41.31 506.45,42.89 506.94,44.82 507.42,47.00 507.91,50.39 508.40,53.79 508.89,57.03 509.37,60.66 509.86,63.89 510.35,67.32 510.84,70.66 511.32,73.76 511.81,77.54 512.30,81.47 512.79,84.88 513.28,87.93 513.76,90.66 514.25,93.51 514.74,95.97 515.23,98.08 515.71,99.96 516.20,101.35 516.69,102.74 517.18,104.44 517.66,106.30 518.15,107.64 518.64,108.22 519.13,108.85 519.62,109.73 520.10,109.96 520.59,110.21 521.08,110.30 521.57,109.90 522.05,110.36 522.54,110.96 523.03,111.47 523.52,111.69 524.00,111.66 524.49,112.13 524.98,112.56 525.47,112.10 525.96,112.20 526.44,113.00 526.93,112.76 527.42,112.54 527.91,112.60 528.39,112.75 528.88,113.12 529.37,113.05 529.86,112.87 530.34,113.45 530.83,113.18 531.32,112.96 531.81,113.15 532.30,113.44 532.78,113.96 533.27,113.77 533.76,113.67 534.25,113.32 534.73,113.55 535.22,113.75 535.71,113.62 536.20,113.54 536.68,113.26 537.17,113.51 537.66,113.05 538.15,112.94 538.64,113.20 539.12,113.50 539.61,113.79 540.10,113.46 540.59,113.40 541.07,113.51 541.56,113.73 542.05,114.37 542.54,114.32 543.02,113.81 543.51,113.74 544.00,113.33" fill="none" stroke="#000" stroke-width="1.0" stroke-linejoin="round" />
<polyline points="385.50,120.67 385.99,120.67 386.48,120.67 386.96,120.67 387.45,120.67 387.94,120.67 388.43,120.67 388.91,120.67 389.40,120.66 389.89,120.66 390.38,120.66 390.86,120.66 391.35,120.66 391.84,120.66 392.33,120.66 392.82,120.65 393.30,120.65 393.79,120.65 394.28,120.65 394.77,120.65 395.25,120.65 395.74,120.64 396.23,120.64 396.72,120.64 397.20,120.64 397.69,120.64 398.18,120.63 398.67,120.63 399.16,120.63 399.64,120.63 400.13,120.62 400.62,120.62 401.11,120.62 401.59,120.62 402.08,120.61 402.57,120.61 403.06,120.61 403.54,120.60 404.03,120.60 404.52,120.60 405.01,120.59 405.50,120.59 405.98,120.59 406.47,120.58 406.96,120.58 407.45,120.58 407.93,120.57 408.42,120.57 408.91,120.56 409.40,120.56 409.88,120.55 410.37,120.55 410.86,120.54 411.35,120.54 411.84,120.53 412.32,120.52 412.81,120.52 413.30,120.51 413.79,120.50 414.27,120.50 414.76,120.49 415.25,120.48 415.74,120.47 416.22,120.46 416.71,120.45 417.20,120.44 417.69,120.43 418.18,120.42 418.66,120.41 419.15,120.39 419.64,120.38 420.13,120.36 420.61,120.34 421.10,120.32 421.59,120.30 422.08,120.27 422.56,120.24 423.05,120.21 423.54,120.16 424.03,120.11 424.52,120.05 425.00,119.97 425.49,119.87 425.98,119.76 426.47,119.61 426.95,119.43 427.44,119.21 427.93,118.94 428.42,118.61 428.90,118.20 429.39,117.71 429.88,117.12 430.37,116.41 430.86,115.56 431.34,114.56 431.83,113.38 432.32,112.01 432.81,110.43 433.29,108.61 433.78,106.53 434.27,104.19 434.76,101.57 435.24,98.66 435.73,95.46 436.22,91.97 436.71,88.20 437.20,84.17 437.68,79.90 438.17,75.44 438.66,70.81 439.15,66.07 439.63,61.29 440.12,56.51 440.61,51.82 441.10,47.29 441.58,42.99 442.07,39.01 442.56,35.41 443.05,32.28 443.54,29.67 444.02,27.64 444.51,26.24 445.00,25.50 445.49,25.44 445.97,26.05 446.46,27.32 446.95,29.22 447.44,31.70 447.92,34.71 448.41,38.18 448.90,42.04 449.39,46.21 449.88,50.63 450.36,55.20 450.85,59.86 451.34,64.54 451.83,69.17 452.31,73.70 452.80,78.06 453.29,82.23 453.78,86.17 454.26,89.85 454.75,93.25 455.24,96.37 455.73,99.20 456.22,101.75 456.70,104.02 457.19,106.02 457.68,107.78 458.17,109.31 458.65,110.62 459.14,111.74 459.63,112.69 460.12,113.49 460.60,114.15 461.09,114.70 461.58,115.15 462.07,115.52 462.56,115.81 463.04,116.05 463.53,116.24 464.02,116.39 464.51,116.50 464.99,116.59 465.48,116.66 465.97,116.72 466.46,116.76 466.94,116.79 467.43,116.81 467.92,116.83 468.41,116.84 468.90,116.85 469.38,116.86 469.87,116.86 470.36,116.86 470.85,116.87 471.33,116.87 471.82,116.87 472.31,116.87 472.80,116.87 473.28,116.87 473.77,116.86 474.26,116.86 474.75,116.86 475.24,116.86 475.72,116.85 476.21,116.85 476.70,116.85 477.19,116.84 477.67,116.84 478.16,116.83 478.65,116.82 479.14,116.81 479.62,116.81 480.11,116.80 480.60,116.78 481.09,116.77 481.58,116.75 482.06,116.73 482.55,116.71 483.04,116.68 483.53,116.65 484.01,116.60 484.50,116.55 484.99,116.49 485.48,116.41 485.96,116.31 486.45,116.18 486.94,116.03 487.43,115.84 487.92,115.61 488.40,115.32 488.89,114.98 489.38,114.56 489.87,114.05 490.35,113.45 490.84,112.73 491.33,111.89 491.82,110.90 492.30,109.75 492.79,108.43 493.28,106.91 493.77,105.20 494.26,103.27 494.74,101.12 495.23,98.74 495.72,96.13 496.21,93.31 496.69,90.27 497.18,87.04 497.67,83.63 498.16,80.09 498.64,76.43 499.13,72.72 499.62,68.99 500.11,65.29 500.60,61.68 501.08,58.23 501.57,54.99 502.06,52.02 502.55,49.38 503.03,47.12 503.52,45.30 504.01,43.94 504.50,43.08 504.98,42.74 505.47,42.93 505.96,43.63 506.45,44.84 506.94,46.52 507.42,48.63 507.91,51.12 508.40,53.95 508.89,57.05 509.37,60.37 509.86,63.84 510.35,67.41 510.84,71.03 511.32,74.62 511.81,78.16 512.30,81.60 512.79,84.90 513.28,88.04 513.76,90.98 514.25,93.72 514.74,96.25 515.23,98.55 515.71,100.63 516.20,102.49 516.69,104.14 517.18,105.59 517.66,106.86 518.15,107.96 518.64,108.90 519.13,109.70 519.62,110.37 520.10,110.94 520.59,111.41 521.08,111.80 521.57,112.11 522.05,112.37 522.54,112.58 523.03,112.75 523.52,112.88 524.00,112.98 524.49,113.07 524.98,113.13 525.47,113.18 525.96,113.22 526.44,113.25 526.93,113.28 527.42,113.30 527.91,113.31 528.39,113.33 528.88,113.34 529.37,113.35 529.86,113.35 530.34,113.36 530.83,113.36 531.32,113.37 531.81,113.38 532.30,113.38 532.78,113.38 533.27,113.39 533.76,113.39 534.25,113.40 534.73,113.40 535.22,113.40 535.71,113.41 536.20,113.41 536.68,113.42 537.17,113.42 537.66,113.42 538.15,113.43 538.64,113.43 539.12,113.43 539.61,113.43 540.10,113.44 540.59,113.44 541.07,113.44 541.56,113.45 542.05,113.45 542.54,113.45 543.02,113.45 543.51,113.46 544.00,113.46" fill="none" stroke="#0a8a1e" stroke-width="1.2" stroke-linejoin="round" />
<rect x="385.50" y="11.40" width="158.50" height="116.60" fill="none" stroke="#000" stroke-width="1.2"/>
<line x1="409.88" y1="128.00" x2="409.88" y2="130.40" stroke="#000" stroke-width="1.0"/>
<text x="409.88" y="137.60" font-size="8.8" text-anchor="middle" font-weight="normal" fill="#111" stroke="#111" stroke-width="0.2" >135</text>
<line x1="470.85" y1="128.00" x2="470.85" y2="130.40" stroke="#000" stroke-width="1.0"/>
<text x="470.85" y="137.60" font-size="8.8" text-anchor="middle" font-weight="normal" fill="#111" stroke="#111" stroke-width="0.2" >140</text>
<line x1="531.81" y1="128.00" x2="531.81" y2="130.40" stroke="#000" stroke-width="1.0"/>
<text x="531.81" y="137.60" font-size="8.8" text-anchor="middle" font-weight="normal" fill="#111" stroke="#111" stroke-width="0.2" >145</text>
<line x1="440.37" y1="128.00" x2="440.37" y2="129.50" stroke="#000" stroke-width="1.0"/>
<line x1="501.33" y1="128.00" x2="501.33" y2="129.50" stroke="#000" stroke-width="1.0"/>
<line x1="385.50" y1="128.00" x2="383.10" y2="128.00" stroke="#000" stroke-width="1.0"/>
<text x="382.70" y="131.40" font-size="8.8" text-anchor="end" font-weight="normal" fill="#111" stroke="#111" stroke-width="0.2" >0</text>
<line x1="385.50" y1="104.60" x2="383.10" y2="104.60" stroke="#000" stroke-width="1.0"/>
<text x="382.70" y="108.00" font-size="8.8" text-anchor="end" font-weight="normal" fill="#111" stroke="#111" stroke-width="0.2" >5</text>
<line x1="385.50" y1="81.20" x2="383.10" y2="81.20" stroke="#000" stroke-width="1.0"/>
<text x="382.70" y="84.60" font-size="8.8" text-anchor="end" font-weight="normal" fill="#111" stroke="#111" stroke-width="0.2" >10</text>
<line x1="385.50" y1="57.80" x2="383.10" y2="57.80" stroke="#000" stroke-width="1.0"/>
<text x="382.70" y="61.20" font-size="8.8" text-anchor="end" font-weight="normal" fill="#111" stroke="#111" stroke-width="0.2" >15</text>
<line x1="385.50" y1="34.40" x2="383.10" y2="34.40" stroke="#000" stroke-width="1.0"/>
<text x="382.70" y="37.80" font-size="8.8" text-anchor="end" font-weight="normal" fill="#111" stroke="#111" stroke-width="0.2" >20</text>
<line x1="385.50" y1="11.00" x2="383.10" y2="11.00" stroke="#000" stroke-width="1.0"/>
<text x="382.70" y="14.40" font-size="8.8" text-anchor="end" font-weight="normal" fill="#111" stroke="#111" stroke-width="0.2" >25</text>
<line x1="385.50" y1="116.30" x2="384.00" y2="116.30" stroke="#000" stroke-width="1.0"/>
<line x1="385.50" y1="92.90" x2="384.00" y2="92.90" stroke="#000" stroke-width="1.0"/>
<line x1="385.50" y1="69.50" x2="384.00" y2="69.50" stroke="#000" stroke-width="1.0"/>
<line x1="385.50" y1="46.10" x2="384.00" y2="46.10" stroke="#000" stroke-width="1.0"/>
<line x1="385.50" y1="22.70" x2="384.00" y2="22.70" stroke="#000" stroke-width="1.0"/>
<text x="464.75" y="146.50" font-size="9.2" text-anchor="middle" font-weight="normal" fill="#111" stroke="#111" stroke-width="0.2" >Binding energy (ev)</text>
<text transform="translate(369.80,69.70) rotate(-90)" font-size="9.2" text-anchor="middle" fill="#111" stroke="#111" stroke-width="0.2">Intensity (a.u.)</text>
<text x="363.00" y="13.60" font-size="13" text-anchor="start" font-weight="bold" fill="#000" stroke="#000" stroke-width="0.2" >c</text>
<text x="527.30" y="22.40" font-size="9.0" text-anchor="start" font-weight="normal" fill="#111" stroke="#111" stroke-width="0.2" >Pb</text>
<text x="387.00" y="10.30" font-size="8.5" text-anchor="start" font-weight="normal" fill="#111" stroke="#111" stroke-width="0.2" >×10<tspan dy="-2.8" font-size="5.2">3</tspan></text>
<text x="450.20" y="24.00" font-size="9.0" text-anchor="start" font-weight="normal" fill="#111" stroke="#111" stroke-width="0.2" >137.9</text>
<text x="494.20" y="37.00" font-size="9.0" text-anchor="start" font-weight="normal" fill="#111" stroke="#111" stroke-width="0.2" >142.8</text>
<polyline points="100.50,248.64 100.89,248.35 101.29,249.50 101.68,249.50 102.08,249.64 102.47,253.49 102.87,256.32 103.26,253.51 103.66,247.37 104.05,250.56 104.45,247.88 104.84,259.15 105.24,252.42 105.63,252.03 106.03,251.39 106.42,260.03 106.82,260.28 107.21,258.43 107.61,251.44 108.00,240.28 108.40,249.00 108.79,254.52 109.18,247.26 109.58,248.98 109.97,246.01 110.37,248.70 110.76,253.07 111.16,251.63 111.55,245.81 111.95,248.13 112.34,243.66 112.74,253.90 113.13,246.68 113.53,250.76 113.92,250.73 114.32,245.47 114.71,251.20 115.11,249.26 115.50,247.93 115.90,246.44 116.29,245.63 116.68,242.37 117.08,243.84 117.47,248.18 117.87,236.49 118.26,246.16 118.66,243.53 119.05,247.81 119.45,253.14 119.84,247.38 120.24,245.06 120.63,244.35 121.03,248.59 121.42,245.06 121.82,245.19 122.21,247.64 122.61,253.01 123.00,253.38 123.40,254.38 123.79,258.56 124.19,247.70 124.58,257.64 124.97,250.79 125.37,249.37 125.76,258.27 126.16,244.74 126.55,248.34 126.95,245.74 127.34,248.19 127.74,252.56 128.13,245.35 128.53,245.88 128.92,242.47 129.32,245.28 129.71,253.85 130.11,241.65 130.50,242.06 130.90,241.57 131.29,242.38 131.69,247.48 132.08,242.65 132.47,246.28 132.87,234.52 133.26,248.35 133.66,250.70 134.05,248.16 134.45,243.49 134.84,252.83 135.24,260.95 135.63,245.31 136.03,248.48 136.42,251.15 136.82,244.15 137.21,250.24 137.61,251.99 138.00,242.39 138.40,246.01 138.79,241.98 139.19,244.06 139.58,239.57 139.98,243.99 140.37,254.54 140.76,243.48 141.16,248.09 141.55,242.54 141.95,246.16 142.34,242.04 142.74,248.10 143.13,254.89 143.53,248.66 143.92,245.38 144.32,248.74 144.71,249.70 145.11,240.77 145.50,247.24 145.90,240.78 146.29,243.30 146.69,251.27 147.08,249.45 147.48,247.44 147.87,243.22 148.26,246.79 148.66,248.29 149.05,246.84 149.45,245.30 149.84,247.77 150.24,246.46 150.63,234.97 151.03,240.45 151.42,243.01 151.82,238.47 152.21,231.37 152.61,233.34 153.00,235.24 153.40,238.77 153.79,237.66 154.19,228.93 154.58,225.22 154.98,229.16 155.37,224.71 155.77,217.25 156.16,222.86 156.55,218.27 156.95,206.80 157.34,201.06 157.74,199.50 158.13,193.96 158.53,188.58 158.92,188.93 159.32,190.03 159.71,176.73 160.11,174.94 160.50,176.15 160.90,181.21 161.29,172.83 161.69,181.86 162.08,174.81 162.48,184.85 162.87,175.54 163.27,170.34 163.66,176.95 164.05,173.67 164.45,181.17 164.84,183.95 165.24,187.75 165.63,187.57 166.03,191.68 166.42,188.87 166.82,190.85 167.21,200.56 167.61,209.25 168.00,204.51 168.40,205.36 168.79,210.50 169.19,215.41 169.58,216.05 169.98,216.91 170.37,235.01 170.77,219.93 171.16,222.67 171.56,226.49 171.95,231.86 172.34,230.36 172.74,231.30 173.13,241.57 173.53,231.61 173.92,235.28 174.32,229.70 174.71,233.17 175.11,238.00 175.50,237.14 175.90,234.72 176.29,236.43 176.69,233.76 177.08,238.55 177.48,241.34 177.87,240.99 178.27,245.75 178.66,241.89 179.06,238.19 179.45,247.03 179.84,245.83 180.24,236.47 180.63,241.98 181.03,240.54 181.42,246.47 181.82,243.76 182.21,241.31 182.61,235.13 183.00,239.18 183.40,247.05 183.79,238.99 184.19,238.86 184.58,241.39 184.98,249.22 185.37,243.32 185.77,233.69 186.16,245.63 186.56,241.79 186.95,249.15 187.35,251.57 187.74,248.53 188.13,240.57 188.53,240.82 188.92,250.73 189.32,250.37 189.71,252.70 190.11,257.62 190.50,246.10 190.90,240.41 191.29,242.56 191.69,250.61 192.08,245.47 192.48,245.34 192.87,250.95 193.27,248.59 193.66,247.66 194.06,246.47 194.45,239.43 194.85,250.54 195.24,250.32 195.63,239.88 196.03,242.67 196.42,249.28 196.82,245.09 197.21,243.22 197.61,243.94 198.00,237.98 198.40,234.50 198.79,240.17 199.19,238.64 199.58,241.74 199.98,232.60 200.37,230.04 200.77,235.89 201.16,236.74 201.56,223.12 201.95,228.49 202.35,234.25 202.74,233.67 203.14,226.55 203.53,219.17 203.92,225.41 204.32,223.37 204.71,223.14 205.11,218.98 205.50,216.63 205.90,226.18 206.29,222.76 206.69,224.55 207.08,225.14 207.48,228.99 207.87,221.88 208.27,226.44 208.66,223.96 209.06,222.28 209.45,230.06 209.85,226.11 210.24,229.32 210.64,228.34 211.03,228.65 211.42,230.81 211.82,236.08 212.21,222.43 212.61,229.02 213.00,233.69 213.40,240.06 213.79,232.18 214.19,230.79 214.58,228.65 214.98,228.05 215.37,233.97 215.77,229.39 216.16,240.58 216.56,234.90 216.95,232.37 217.35,238.44 217.74,237.50 218.14,236.41 218.53,237.13 218.93,231.14 219.32,243.14 219.71,234.71 220.11,245.10 220.50,242.92 220.90,243.20 221.29,241.09 221.69,241.71 222.08,240.46 222.48,242.62 222.87,234.02 223.27,242.10 223.66,244.44 224.06,242.18 224.45,239.82 224.85,242.18 225.24,245.62 225.64,244.12 226.03,238.64 226.43,236.33 226.82,238.22 227.21,241.58 227.61,238.93 228.00,244.05 228.40,241.32 228.79,238.38 229.19,241.00 229.58,242.19 229.98,248.92 230.37,246.60 230.77,251.74 231.16,243.32 231.56,248.58 231.95,252.22 232.35,249.52 232.74,244.98 233.14,254.05 233.53,251.15 233.93,240.58 234.32,244.51 234.72,245.61 235.11,250.60 235.50,238.28 235.90,239.69 236.29,240.75 236.69,247.11 237.08,241.23 237.48,237.31 237.87,243.69 238.27,242.53 238.66,243.46 239.06,240.37 239.45,242.34 239.85,243.45 240.24,248.06 240.64,250.86 241.03,238.36 241.43,236.81 241.82,240.40 242.22,238.92 242.61,246.67 243.00,243.32 243.40,242.18 243.79,243.66 244.19,236.21 244.58,247.73 244.98,245.29 245.37,243.40 245.77,245.57 246.16,239.79 246.56,251.07 246.95,238.81 247.35,241.50 247.74,244.38 248.14,239.97 248.53,237.74 248.93,246.05 249.32,243.86 249.72,244.13 250.11,242.09 250.51,247.43 250.90,247.46 251.29,240.71 251.69,245.56 252.08,238.33 252.48,237.74 252.87,243.45 253.27,239.92 253.66,240.93 254.06,243.57 254.45,237.28 254.85,242.61 255.24,242.53 255.64,252.07 256.03,241.77 256.43,251.45 256.82,245.14 257.22,237.49 257.61,236.73 258.01,246.59 258.40,250.72" fill="none" stroke="#000" stroke-width="1.0" stroke-linejoin="round" />
<polyline points="166.82,211.69 167.21,215.17 167.61,218.56 168.00,221.82 168.40,224.92 168.79,227.85 169.19,230.57 169.58,233.09 169.98,235.40 170.37,237.48 170.77,239.36 171.16,241.03 171.56,242.50 171.95,243.79 172.34,244.90 172.74,245.86 173.13,246.67 173.53,247.36 173.92,247.94 174.32,248.41 174.71,248.80 175.11,249.12 175.50,249.37 175.90,249.57 176.29,249.72 176.69,249.84 177.08,249.92 177.48,249.98 177.87,250.02 178.27,250.05 178.66,250.05 179.06,250.05 179.45,250.04 179.84,250.02 180.24,250.00 180.63,249.97 181.03,249.94 181.42,249.91 181.82,249.87 182.21,249.83 182.61,249.80 183.00,249.76 183.40,249.71 183.79,249.67 184.19,249.63 184.58,249.59 184.98,249.55 185.37,249.51 185.77,249.47 186.16,249.43 186.56,249.38 186.95,249.34" fill="none" stroke="#ff1a1a" stroke-width="1.1" stroke-linejoin="round" />
<polyline points="144.71,257.14 145.11,257.08 145.50,257.01 145.90,256.95 146.29,256.88 146.69,256.81 147.08,256.74 147.48,256.67 147.87,256.60 148.26,256.52 148.66,256.44 149.05,256.36 149.45,256.28 149.84,256.19 150.24,256.11 150.63,256.02 151.03,255.92 151.42,255.83 151.82,255.73 152.21,255.63 152.61,255.53 153.00,255.43 153.40,255.32 153.79,255.21 154.19,255.10 154.58,254.98 154.98,254.86 155.37,254.74 155.77,254.61 156.16,254.48 156.55,254.35 156.95,254.22 157.34,254.08 157.74,253.93 158.13,253.79 158.53,253.64 158.92,253.49 159.32,253.33 159.71,253.17 160.11,253.00 160.50,252.83 160.90,252.66 161.29,252.48 161.69,252.30 162.08,252.11 162.48,251.92 162.87,251.72 163.27,251.52 163.66,251.32 164.05,251.11 164.45,250.90 164.84,250.68 165.24,250.46 165.63,250.23 166.03,249.99 166.42,249.76 166.82,249.52 167.21,249.27 167.61,249.02 168.00,248.76 168.40,248.50 168.79,248.24 169.19,247.98 169.58,247.71 169.98,247.43 170.37,247.16 170.77,246.88 171.16,246.61 171.56,246.33 171.95,246.05 172.34,245.77 172.74,245.50 173.13,245.22 173.53,244.95 173.92,244.69 174.32,244.43 174.71,244.17 175.11,243.93 175.50,243.69 175.90,243.46 176.29,243.25 176.69,243.05 177.08,242.86 177.48,242.68 177.87,242.52 178.27,242.38 178.66,242.25 179.06,242.14 179.45,242.04 179.84,241.98 180.24,241.94 180.63,241.94 181.03,241.97 181.42,242.03 181.82,242.12 182.21,242.24 182.61,242.39 183.00,242.55 183.40,242.74 183.79,242.95 184.19,243.18 184.58,243.42 184.98,243.67 185.37,243.93 185.77,244.20 186.16,244.47 186.56,244.74 186.95,245.01 187.35,245.27 187.74,245.54 188.13,245.79 188.53,246.04 188.92,246.28 189.32,246.50 189.71,246.72 190.11,246.92 190.50,247.11 190.90,247.29 191.29,247.45 191.69,247.60 192.08,247.74 192.48,247.86 192.87,247.98 193.27,248.08 193.66,248.16 194.06,248.24 194.45,248.31 194.85,248.37 195.24,248.41 195.63,248.45 196.03,248.49 196.42,248.51 196.82,248.53 197.21,248.54 197.61,248.55 198.00,248.56 198.40,248.56 198.79,248.55" fill="none" stroke="#ff00e6" stroke-width="1.1" stroke-linejoin="round" />
<polyline points="191.29,249.38 191.69,249.32 192.08,249.26 192.48,249.21 192.87,249.15 193.27,249.08 193.66,249.02 194.06,248.95 194.45,248.88 194.85,248.81 195.24,248.73 195.63,248.64 196.03,248.55 196.42,248.45 196.82,248.34 197.21,248.22 197.61,248.09 198.00,247.95 198.40,247.80 198.79,247.64 199.19,247.46 199.58,247.26 199.98,247.05 200.37,246.82 200.77,246.57 201.16,246.31 201.56,246.03 201.95,245.73 202.35,245.41 202.74,245.07 203.14,244.72 203.53,244.34 203.92,243.96 204.32,243.56 204.71,243.14 205.11,242.72 205.50,242.29 205.90,241.85 206.29,241.41 206.69,240.97 207.08,240.54 207.48,240.12 207.87,239.70 208.27,239.30 208.66,238.92 209.06,238.56 209.45,238.23 209.85,237.92 210.24,237.65 210.64,237.41 211.03,237.22 211.42,237.05 211.82,236.93 212.21,236.86 212.61,236.82 213.00,236.83 213.40,236.88 213.79,236.98 214.19,237.11 214.58,237.29 214.98,237.50 215.37,237.74 215.77,238.02 216.16,238.33 216.56,238.66 216.95,239.02 217.35,239.39 217.74,239.78 218.14,240.18 218.53,240.58 218.93,240.99 219.32,241.40 219.71,241.81 220.11,242.21 220.50,242.61 220.90,242.99 221.29,243.37 221.69,243.72 222.08,244.06 222.48,244.39 222.87,244.69 223.27,244.96 223.66,245.20 224.06,245.42 224.45,245.63 224.85,245.82 225.24,245.99 225.64,246.14 226.03,246.27 226.43,246.39 226.82,246.49 227.21,246.58 227.61,246.66 228.00,246.72 228.40,246.78 228.79,246.82 229.19,246.85 229.58,246.88 229.98,246.89 230.37,246.91 230.77,246.91 231.16,246.91 231.56,246.91 231.95,246.90 232.35,246.89 232.74,246.87 233.14,246.85 233.53,246.83 233.93,246.81 234.32,246.79" fill="none" stroke="#0a9a1e" stroke-width="1.1" stroke-linejoin="round" />
<polyline points="187.35,249.94 187.74,249.88 188.13,249.82 188.53,249.76 188.92,249.70 189.32,249.64 189.71,249.57 190.11,249.50 190.50,249.43 190.90,249.36 191.29,249.27 191.69,249.18 192.08,249.08 192.48,248.96 192.87,248.82 193.27,248.66 193.66,248.48 194.06,248.27 194.45,248.03 194.85,247.75 195.24,247.43 195.63,247.05 196.03,246.63 196.42,246.15 196.82,245.62 197.21,245.03 197.61,244.37 198.00,243.66 198.40,242.89 198.79,242.06 199.19,241.20 199.58,240.29 199.98,239.36 200.37,238.42 200.77,237.48 201.16,236.56 201.56,235.67 201.95,234.83 202.35,234.06 202.74,233.37 203.14,232.78 203.53,232.30 203.92,231.95 204.32,231.72 204.71,231.63 205.11,231.68 205.50,231.87 205.90,232.18 206.29,232.62 206.69,233.17 207.08,233.81 207.48,234.54 207.87,235.34 208.27,236.19 208.66,237.07 209.06,237.97 209.45,238.87 209.85,239.76 210.24,240.62 210.64,241.44 211.03,242.22 211.42,242.95 211.82,243.62 212.21,244.23 212.61,244.77 213.00,245.26 213.40,245.69 213.79,246.07 214.19,246.39 214.58,246.67 214.98,246.90 215.37,247.09 215.77,247.25 216.16,247.38 216.56,247.48 216.95,247.56 217.35,247.63 217.74,247.67 218.14,247.71 218.53,247.74 218.93,247.75 219.32,247.77 219.71,247.77 220.11,247.78 220.50,247.78 220.90,247.77 221.29,247.77 221.69,247.77 222.08,247.76 222.48,247.75 222.87,247.75 223.27,247.71 223.66,247.68 224.06,247.65 224.45,247.62 224.85,247.58 225.24,247.55 225.64,247.52 226.03,247.49 226.43,247.45" fill="none" stroke="#1a1aff" stroke-width="1.1" stroke-linejoin="round" />
<polyline points="100.50,259.88 100.89,259.88 101.29,259.87 101.68,259.86 102.08,259.86 102.47,259.85 102.87,259.85 103.26,259.84 103.66,259.84 104.05,259.83 104.45,259.82 104.84,259.82 105.24,259.81 105.63,259.81 106.03,259.80 106.42,259.79 106.82,259.79 107.21,259.78 107.61,259.77 108.00,259.77 108.40,259.76 108.79,259.75 109.18,259.75 109.58,259.74 109.97,259.74 110.37,259.73 110.76,259.72 111.16,259.71 111.55,259.71 111.95,259.70 112.34,259.69 112.74,259.69 113.13,259.68 113.53,259.67 113.92,259.67 114.32,259.66 114.71,259.65 115.11,259.64 115.50,259.63 115.90,259.63 116.29,259.62 116.68,259.61 117.08,259.60 117.47,259.59 117.87,259.59 118.26,259.58 118.66,259.57 119.05,259.56 119.45,259.55 119.84,259.54 120.24,259.53 120.63,259.52 121.03,259.52 121.42,259.51 121.82,259.50 122.21,259.49 122.61,259.48 123.00,259.47 123.40,259.46 123.79,259.45 124.19,259.43 124.58,259.42 124.97,259.41 125.37,259.40 125.76,259.39 126.16,259.38 126.55,259.37 126.95,259.35 127.34,259.34 127.74,259.33 128.13,259.31 128.53,259.30 128.92,259.29 129.32,259.27 129.71,259.26 130.11,259.24 130.50,259.23 130.90,259.21 131.29,259.20 131.69,259.18 132.08,259.17 132.47,259.15 132.87,259.13 133.26,259.11 133.66,259.10 134.05,259.08 134.45,259.06 134.84,259.04 135.24,259.02 135.63,259.00 136.03,258.98 136.42,258.96 136.82,258.93 137.21,258.91 137.61,258.89 138.00,258.86 138.40,258.84 138.79,258.82 139.19,258.79 139.58,258.76 139.98,258.74 140.37,258.71 140.76,258.68 141.16,258.65 141.55,258.62 141.95,258.59 142.34,258.56 142.74,258.53 143.13,258.49 143.53,258.46 143.92,258.43 144.32,258.39 144.71,258.35 145.11,258.32 145.50,258.28 145.90,258.24 146.29,258.20 146.69,258.16 147.08,258.11 147.48,258.07 147.87,258.03 148.26,257.98 148.66,257.93 149.05,257.89 149.45,257.84 149.84,257.79 150.24,257.74 150.63,257.68 151.03,257.63 151.42,257.57 151.82,257.52 152.21,257.46 152.61,257.40 153.00,257.34 153.40,257.28 153.79,257.22 154.19,257.15 154.58,257.09 154.98,257.02 155.37,256.95 155.77,256.89 156.16,256.82 156.55,256.74 156.95,256.67 157.34,256.60 157.74,256.52 158.13,256.44 158.53,256.37 158.92,256.29 159.32,256.21 159.71,256.12 160.11,256.04 160.50,255.96 160.90,255.87 161.29,255.78 161.69,255.70 162.08,255.61 162.48,255.52 162.87,255.43 163.27,255.34 163.66,255.24 164.05,255.15 164.45,255.06 164.84,254.96 165.24,254.86 165.63,254.77 166.03,254.67 166.42,254.57 166.82,254.47 167.21,254.38 167.61,254.28 168.00,254.18 168.40,254.08 168.79,253.98 169.19,253.88 169.58,253.78 169.98,253.68 170.37,253.58 170.77,253.48 171.16,253.38 171.56,253.28 171.95,253.18 172.34,253.08 172.74,252.98 173.13,252.88 173.53,252.78 173.92,252.68 174.32,252.58 174.71,252.49 175.11,252.39 175.50,252.30 175.90,252.20 176.29,252.11 176.69,252.02 177.08,251.93 177.48,251.83 177.87,251.74 178.27,251.66 178.66,251.57 179.06,251.48 179.45,251.40 179.84,251.31 180.24,251.23 180.63,251.15 181.03,251.07 181.42,250.99 181.82,250.91 182.21,250.83 182.61,250.76 183.00,250.68 183.40,250.61 183.79,250.54 184.19,250.47 184.58,250.40 184.98,250.33 185.37,250.26 185.77,250.20 186.16,250.13 186.56,250.07 186.95,250.01 187.35,249.95 187.74,249.89 188.13,249.83 188.53,249.78 188.92,249.72 189.32,249.67 189.71,249.62 190.11,249.57 190.50,249.51 190.90,249.47 191.29,249.42 191.69,249.37 192.08,249.33 192.48,249.28 192.87,249.24 193.27,249.20 193.66,249.15 194.06,249.11 194.45,249.07 194.85,249.04 195.24,249.00 195.63,248.96 196.03,248.93 196.42,248.89 196.82,248.86 197.21,248.82 197.61,248.79 198.00,248.76 198.40,248.73 198.79,248.70 199.19,248.67 199.58,248.64 199.98,248.62 200.37,248.59 200.77,248.56 201.16,248.54 201.56,248.51 201.95,248.49 202.35,248.46 202.74,248.44 203.14,248.42 203.53,248.40 203.92,248.37 204.32,248.35 204.71,248.33 205.11,248.31 205.50,248.29 205.90,248.28 206.29,248.26 206.69,248.24 207.08,248.22 207.48,248.20 207.87,248.19 208.27,248.17 208.66,248.15 209.06,248.14 209.45,248.12 209.85,248.11 210.24,248.09 210.64,248.08 211.03,248.07 211.42,248.05 211.82,248.04 212.21,248.03 212.61,248.01 213.00,248.00 213.40,247.99 213.79,247.98 214.19,247.96 214.58,247.95 214.98,247.94 215.37,247.93 215.77,247.92 216.16,247.91 216.56,247.90 216.95,247.89 217.35,247.88 217.74,247.87 218.14,247.86 218.53,247.85 218.93,247.84 219.32,247.83 219.71,247.82 220.11,247.81 220.50,247.80 220.90,247.79 221.29,247.78 221.69,247.77 222.08,247.77 222.48,247.76 222.87,247.75 223.27,247.72 223.66,247.68 224.06,247.65 224.45,247.62 224.85,247.58 225.24,247.55 225.64,247.52 226.03,247.49 226.43,247.45 226.82,247.42 227.21,247.39 227.61,247.36 228.00,247.33 228.40,247.29 228.79,247.26 229.19,247.23 229.58,247.20 229.98,247.17 230.37,247.13 230.77,247.10 231.16,247.07 231.56,247.04 231.95,247.01 232.35,246.98 232.74,246.95 233.14,246.91 233.53,246.88 233.93,246.85 234.32,246.82 234.72,246.79 235.11,246.76 235.50,246.73 235.90,246.70 236.29,246.67 236.69,246.63 237.08,246.60 237.48,246.57 237.87,246.54 238.27,246.51 238.66,246.48 239.06,246.45 239.45,246.42 239.85,246.39 240.24,246.36 240.64,246.33 241.03,246.30 241.43,246.26 241.82,246.23 242.22,246.20 242.61,246.17 243.00,246.14 243.40,246.11 243.79,246.08 244.19,246.05 244.58,246.02 244.98,245.99 245.37,245.96 245.77,245.93 246.16,245.90 246.56,245.87 246.95,245.84 247.35,245.81 247.74,245.78 248.14,245.75 248.53,245.72 248.93,245.69 249.32,245.66 249.72,245.62 250.11,245.59 250.51,245.56 250.90,245.53 251.29,245.50 251.69,245.47 252.08,245.44 252.48,245.41 252.87,245.38 253.27,245.35 253.66,245.32 254.06,245.29 254.45,245.26 254.85,245.23 255.24,245.20 255.64,245.17 256.03,245.14 256.43,245.11 256.82,245.08 257.22,245.05 257.61,245.02 258.01,244.99 258.40,244.96" fill="none" stroke="#1a1aa0" stroke-width="1.1" stroke-linejoin="round" />
<polyline points="100.50,259.51 100.89,259.50 101.29,259.49 101.68,259.48 102.08,259.47 102.47,259.46 102.87,259.45 103.26,259.44 103.66,259.43 104.05,259.42 104.45,259.40 104.84,259.39 105.24,259.38 105.63,259.37 106.03,259.36 106.42,259.35 106.82,259.34 107.21,259.33 107.61,259.31 108.00,259.30 108.40,259.29 108.79,259.28 109.18,259.27 109.58,259.25 109.97,259.24 110.37,259.23 110.76,259.22 111.16,259.20 111.55,259.19 111.95,259.18 112.34,259.16 112.74,259.15 113.13,259.13 113.53,259.12 113.92,259.10 114.32,259.09 114.71,259.07 115.11,259.06 115.50,259.04 115.90,259.03 116.29,259.01 116.68,259.00 117.08,258.98 117.47,258.96 117.87,258.94 118.26,258.93 118.66,258.91 119.05,258.89 119.45,258.87 119.84,258.85 120.24,258.83 120.63,258.81 121.03,258.79 121.42,258.77 121.82,258.75 122.21,258.73 122.61,258.71 123.00,258.69 123.40,258.67 123.79,258.64 124.19,258.62 124.58,258.59 124.97,258.57 125.37,258.54 125.76,258.52 126.16,258.49 126.55,258.46 126.95,258.44 127.34,258.41 127.74,258.38 128.13,258.35 128.53,258.32 128.92,258.29 129.32,258.26 129.71,258.22 130.11,258.19 130.50,258.15 130.90,258.12 131.29,258.08 131.69,258.04 132.08,258.01 132.47,257.97 132.87,257.93 133.26,257.88 133.66,257.84 134.05,257.80 134.45,257.75 134.84,257.70 135.24,257.65 135.63,257.60 136.03,257.55 136.42,257.50 136.82,257.44 137.21,257.39 137.61,257.33 138.00,257.27 138.40,257.21 138.79,257.14 139.19,257.07 139.58,257.01 139.98,256.93 140.37,256.86 140.76,256.78 141.16,256.70 141.55,256.62 141.95,256.53 142.34,256.44 142.74,256.35 143.13,256.25 143.53,256.14 143.92,256.03 144.32,255.91 144.71,255.78 145.11,255.65 145.50,255.50 145.90,255.34 146.29,255.16 146.69,254.96 147.08,254.74 147.48,254.49 147.87,254.21 148.26,253.89 148.66,253.51 149.05,253.09 149.45,252.59 149.84,252.02 150.24,251.36 150.63,250.60 151.03,249.72 151.42,248.71 151.82,247.56 152.21,246.24 152.61,244.75 153.00,243.08 153.40,241.20 153.79,239.12 154.19,236.82 154.58,234.30 154.98,231.56 155.37,228.61 155.77,225.46 156.16,222.13 156.55,218.63 156.95,215.01 157.34,211.30 157.74,207.53 158.13,203.76 158.53,200.05 158.92,196.44 159.32,193.01 159.71,189.82 160.11,186.95 160.50,184.44 160.90,182.38 161.29,180.81 161.69,179.77 162.08,179.30 162.48,179.40 162.87,180.05 163.27,181.25 163.66,182.93 164.05,185.06 164.45,187.55 164.84,190.36 165.24,193.41 165.63,196.63 166.03,199.97 166.42,203.35 166.82,206.73 167.21,210.06 167.61,213.30 168.00,216.41 168.40,219.35 168.79,222.11 169.19,224.67 169.58,227.02 169.98,229.15 170.37,231.07 170.77,232.77 171.16,234.26 171.56,235.55 171.95,236.66 172.34,237.60 172.74,238.38 173.13,239.02 173.53,239.53 173.92,239.94 174.32,240.25 174.71,240.49 175.11,240.65 175.50,240.76 175.90,240.83 176.29,240.86 176.69,240.87 177.08,240.85 177.48,240.83 177.87,240.80 178.27,240.77 178.66,240.73 179.06,240.71 179.45,240.69 179.84,240.69 180.24,240.71 180.63,240.77 181.03,240.85 181.42,240.95 181.82,241.08 182.21,241.24 182.61,241.42 183.00,241.63 183.40,241.85 183.79,242.09 184.19,242.34 184.58,242.61 184.98,242.89 185.37,243.17 185.77,243.46 186.16,243.75 186.56,244.04 186.95,244.33 187.35,244.62 187.74,244.89 188.13,245.16 188.53,245.42 188.92,245.67 189.32,245.90 189.71,246.11 190.11,246.31 190.50,246.49 190.90,246.64 191.29,246.78 191.69,246.88 192.08,246.96 192.48,247.01 192.87,247.03 193.27,247.00 193.66,246.94 194.06,246.83 194.45,246.67 194.85,246.46 195.24,246.19 195.63,245.85 196.03,245.45 196.42,244.97 196.82,244.43 197.21,243.80 197.61,243.10 198.00,242.32 198.40,241.46 198.79,240.54 199.19,239.55 199.58,238.51 199.98,237.42 200.37,236.29 200.77,235.15 201.16,234.00 201.56,232.87 201.95,231.77 202.35,230.71 202.74,229.72 203.14,228.81 203.53,227.99 203.92,227.27 204.32,226.68 204.71,226.20 205.11,225.85 205.50,225.63 205.90,225.53 206.29,225.55 206.69,225.69 207.08,225.92 207.48,226.25 207.87,226.65 208.27,227.12 208.66,227.64 209.06,228.20 209.45,228.79 209.85,229.39 210.24,229.99 210.64,230.60 211.03,231.19 211.42,231.77 211.82,232.34 212.21,232.89 212.61,233.42 213.00,233.93 213.40,234.43 213.79,234.91 214.19,235.38 214.58,235.85 214.98,236.30 215.37,236.75 215.77,237.20 216.16,237.65 216.56,238.10 216.95,238.55 217.35,239.00 217.74,239.45 218.14,239.89 218.53,240.34 218.93,240.78 219.32,241.21 219.71,241.64 220.11,242.05 220.50,242.46 220.90,242.85 221.29,243.23 221.69,243.59 222.08,243.94 222.48,244.27 222.87,244.57 223.27,244.84 223.66,245.09 224.06,245.31 224.45,245.52 224.85,245.71 225.24,245.88 225.64,246.03 226.03,246.17 226.43,246.29 226.82,246.39 227.21,246.48 227.61,246.56 228.00,246.62 228.40,246.68 228.79,246.72 229.19,246.76 229.58,246.78 229.98,246.80 230.37,246.81 230.77,246.82 231.16,246.82 231.56,246.82 231.95,246.81 232.35,246.80 232.74,246.78 233.14,246.77 233.53,246.75 233.93,246.73 234.32,246.70 234.72,246.68 235.11,246.66 235.50,246.63 235.90,246.60 236.29,246.58 236.69,246.55 237.08,246.52 237.48,246.49 237.87,246.46 238.27,246.43 238.66,246.40 239.06,246.37 239.45,246.34 239.85,246.32 240.24,246.29 240.64,246.26 241.03,246.23 241.43,246.20 241.82,246.17 242.22,246.14 242.61,246.11 243.00,246.08 243.40,246.05 243.79,246.02 244.19,245.99 244.58,245.96 244.98,245.93 245.37,245.90 245.77,245.87 246.16,245.84 246.56,245.81 246.95,245.78 247.35,245.75 247.74,245.72 248.14,245.69 248.53,245.66 248.93,245.63 249.32,245.60 249.72,245.57 250.11,245.54 250.51,245.51 250.90,245.48 251.29,245.45 251.69,245.42 252.08,245.39 252.48,245.36 252.87,245.33 253.27,245.30 253.66,245.27 254.06,245.24 254.45,245.21 254.85,245.18 255.24,245.15 255.64,245.12 256.03,245.09 256.43,245.06 256.82,245.03 257.22,245.00 257.61,244.97 258.01,244.94 258.40,244.91" fill="none" stroke="#a000f0" stroke-width="1.25" stroke-linejoin="round" />
<line x1="181.30" y1="217.20" x2="178.70" y2="239.50" stroke="#00d8c8" stroke-width="1.4"/>
<line x1="211.80" y1="212.60" x2="204.20" y2="231.40" stroke="#0a9ae0" stroke-width="1.4"/>
<line x1="224.50" y1="223.20" x2="213.60" y2="237.70" stroke="#ff70d0" stroke-width="1.3"/>
<rect x="100.50" y="159.30" width="157.90" height="116.50" fill="none" stroke="#000" stroke-width="1.2"/>
<line x1="100.50" y1="275.80" x2="100.50" y2="278.20" stroke="#000" stroke-width="1.0"/>
<text x="100.50" y="286.00" font-size="8.5" text-anchor="middle" font-weight="normal" fill="#111" stroke="#111" stroke-width="0.2" >450</text>
<line x1="139.97" y1="275.80" x2="139.97" y2="278.20" stroke="#000" stroke-width="1.0"/>
<text x="139.97" y="286.00" font-size="8.5" text-anchor="middle" font-weight="normal" fill="#111" stroke="#111" stroke-width="0.2" >455</text>
<line x1="179.45" y1="275.80" x2="179.45" y2="278.20" stroke="#000" stroke-width="1.0"/>
<text x="179.45" y="286.00" font-size="8.5" text-anchor="middle" font-weight="normal" fill="#111" stroke="#111" stroke-width="0.2" >460</text>
<line x1="218.92" y1="275.80" x2="218.92" y2="278.20" stroke="#000" stroke-width="1.0"/>
<text x="218.92" y="286.00" font-size="8.5" text-anchor="middle" font-weight="normal" fill="#111" stroke="#111" stroke-width="0.2" >465</text>
<line x1="258.40" y1="275.80" x2="258.40" y2="278.20" stroke="#000" stroke-width="1.0"/>
<text x="258.40" y="286.00" font-size="8.5" text-anchor="middle" font-weight="normal" fill="#111" stroke="#111" stroke-width="0.2" >470</text>
<line x1="120.24" y1="275.80" x2="120.24" y2="277.30" stroke="#000" stroke-width="1.0"/>
<line x1="159.71" y1="275.80" x2="159.71" y2="277.30" stroke="#000" stroke-width="1.0"/>
<line x1="199.19" y1="275.80" x2="199.19" y2="277.30" stroke="#000" stroke-width="1.0"/>
<line x1="238.66" y1="275.80" x2="238.66" y2="277.30" stroke="#000" stroke-width="1.0"/>
<line x1="100.50" y1="267.25" x2="98.10" y2="267.25" stroke="#000" stroke-width="1.0"/>
<text x="97.70" y="270.65" font-size="8.5" text-anchor="end" font-weight="normal" fill="#111" stroke="#111" stroke-width="0.2" >9</text>
<line x1="100.50" y1="233.85" x2="98.10" y2="233.85" stroke="#000" stroke-width="1.0"/>
<text x="97.70" y="237.25" font-size="8.5" text-anchor="end" font-weight="normal" fill="#111" stroke="#111" stroke-width="0.2" >10</text>
<line x1="100.50" y1="200.45" x2="98.10" y2="200.45" stroke="#000" stroke-width="1.0"/>
<text x="97.70" y="203.85" font-size="8.5" text-anchor="end" font-weight="normal" fill="#111" stroke="#111" stroke-width="0.2" >11</text>
<line x1="100.50" y1="167.05" x2="98.10" y2="167.05" stroke="#000" stroke-width="1.0"/>
<text x="97.70" y="170.45" font-size="8.5" text-anchor="end" font-weight="normal" fill="#111" stroke="#111" stroke-width="0.2" >12</text>
<line x1="100.50" y1="250.55" x2="99.00" y2="250.55" stroke="#000" stroke-width="1.0"/>
<line x1="100.50" y1="217.15" x2="99.00" y2="217.15" stroke="#000" stroke-width="1.0"/>
<line x1="100.50" y1="183.75" x2="99.00" y2="183.75" stroke="#000" stroke-width="1.0"/>
<text x="179.45" y="295.30" font-size="9.2" text-anchor="middle" font-weight="normal" fill="#111" stroke="#111" stroke-width="0.2" >Binding energy (ev)</text>
<text transform="translate(83.00,217.60) rotate(-90)" font-size="9.2" text-anchor="middle" fill="#111" stroke="#111" stroke-width="0.2">Intensity (a.u.)</text>
<text x="72.60" y="162.60" font-size="13" text-anchor="start" font-weight="bold" fill="#000" stroke="#000" stroke-width="0.2" >d</text>
<text x="244.80" y="169.50" font-size="9.0" text-anchor="start" font-weight="normal" fill="#111" stroke="#111" stroke-width="0.2" >Ti</text>
<text x="163.80" y="176.00" font-size="9.0" text-anchor="start" font-weight="normal" fill="#111" stroke="#111" stroke-width="0.2" >457.8</text>
<text x="173.80" y="213.60" font-size="9.0" text-anchor="start" font-weight="normal" fill="#111" stroke="#111" stroke-width="0.2" >460.0</text>
<text x="202.20" y="209.40" font-size="9.0" text-anchor="start" font-weight="normal" fill="#111" stroke="#111" stroke-width="0.2" >463.2</text>
<text x="216.80" y="220.20" font-size="9.0" text-anchor="start" font-weight="normal" fill="#111" stroke="#111" stroke-width="0.2" >464.2</text>
<polyline points="306.00,258.88 306.48,259.82 306.97,261.55 307.45,253.35 307.94,257.89 308.42,262.84 308.90,259.27 309.39,269.93 309.87,262.33 310.36,256.29 310.84,262.22 311.32,259.90 311.81,264.18 312.29,257.77 312.78,259.97 313.26,260.34 313.74,257.25 314.23,254.92 314.71,257.68 315.20,266.02 315.68,258.98 316.17,259.41 316.65,264.05 317.13,265.59 317.62,261.60 318.10,261.23 318.59,260.46 319.07,262.65 319.55,259.70 320.04,259.23 320.52,261.14 321.01,258.91 321.49,262.10 321.97,265.34 322.46,260.16 322.94,257.22 323.43,251.20 323.91,267.11 324.39,261.74 324.88,262.95 325.36,259.15 325.85,262.91 326.33,259.58 326.81,256.71 327.30,262.43 327.78,260.17 328.27,254.56 328.75,256.95 329.23,265.19 329.72,252.97 330.20,262.03 330.69,258.75 331.17,261.08 331.65,261.18 332.14,261.92 332.62,257.54 333.11,262.10 333.59,263.65 334.07,261.31 334.56,259.38 335.04,265.93 335.53,256.62 336.01,261.53 336.50,256.69 336.98,254.43 337.46,257.85 337.95,257.01 338.43,260.15 338.92,260.74 339.40,264.64 339.88,258.86 340.37,259.85 340.85,265.67 341.34,256.73 341.82,252.38 342.30,255.80 342.79,252.99 343.27,257.37 343.76,259.45 344.24,255.44 344.72,256.30 345.21,258.34 345.69,250.53 346.18,252.64 346.66,254.52 347.14,250.74 347.63,250.77 348.11,247.00 348.60,242.36 349.08,248.09 349.56,248.22 350.05,237.78 350.53,232.27 351.02,239.85 351.50,238.32 351.98,236.58 352.47,229.79 352.95,226.43 353.44,224.56 353.92,217.80 354.40,220.09 354.89,216.21 355.37,215.32 355.86,203.65 356.34,201.88 356.83,198.52 357.31,203.24 357.79,193.95 358.28,195.58 358.76,192.64 359.25,191.86 359.73,193.87 360.21,192.69 360.70,196.75 361.18,193.24 361.67,192.10 362.15,195.21 362.63,191.20 363.12,187.48 363.60,193.49 364.09,195.17 364.57,194.86 365.05,191.40 365.54,186.13 366.02,191.07 366.51,191.03 366.99,194.78 367.47,188.95 367.96,187.23 368.44,189.78 368.93,187.60 369.41,188.70 369.89,183.06 370.38,180.02 370.86,182.09 371.35,180.57 371.83,180.95 372.31,182.09 372.80,181.36 373.28,178.99 373.77,176.14 374.25,175.52 374.73,171.32 375.22,171.63 375.70,168.89 376.19,171.27 376.67,174.97 377.16,174.41 377.64,180.79 378.12,170.77 378.61,179.01 379.09,179.30 379.58,172.84 380.06,183.27 380.54,182.73 381.03,181.92 381.51,184.71 382.00,183.65 382.48,184.36 382.96,184.36 383.45,188.14 383.93,186.90 384.42,191.71 384.90,190.08 385.38,189.72 385.87,200.79 386.35,197.38 386.84,197.58 387.32,205.92 387.80,211.28 388.29,201.73 388.77,206.37 389.26,203.14 389.74,207.18 390.22,208.59 390.71,211.05 391.19,210.87 391.68,215.45 392.16,215.36 392.64,212.24 393.13,216.75 393.61,215.30 394.10,217.98 394.58,219.98 395.07,222.92 395.55,217.80 396.03,224.05 396.52,220.82 397.00,227.83 397.49,222.46 397.97,222.69 398.45,226.61 398.94,230.36 399.42,226.08 399.91,225.73 400.39,228.28 400.87,229.27 401.36,224.55 401.84,228.40 402.33,229.90 402.81,226.29 403.29,229.66 403.78,232.46 404.26,227.90 404.75,232.55 405.23,228.99 405.71,234.90 406.20,232.33 406.68,230.07 407.17,233.38 407.65,234.00 408.13,234.96 408.62,234.43 409.10,237.79 409.59,237.42 410.07,240.47 410.55,234.24 411.04,244.25 411.52,239.51 412.01,246.24 412.49,242.08 412.97,240.33 413.46,248.98 413.94,240.42 414.43,250.03 414.91,250.29 415.40,247.24 415.88,252.54 416.36,246.38 416.85,248.57 417.33,259.62 417.82,255.93 418.30,254.15 418.78,250.91 419.27,256.21 419.75,255.49 420.24,251.50 420.72,257.12 421.20,253.25 421.69,258.98 422.17,251.54 422.66,250.43 423.14,259.04 423.62,263.22 424.11,261.19 424.59,252.75 425.08,257.91 425.56,252.76 426.04,260.68 426.53,259.50 427.01,256.92 427.50,253.14 427.98,257.41 428.46,260.12 428.95,255.85 429.43,256.60 429.92,255.29 430.40,257.55 430.88,259.03 431.37,256.96 431.85,265.13 432.34,256.21 432.82,253.09 433.30,255.31 433.79,260.22 434.27,262.12 434.76,252.85 435.24,258.80 435.73,257.84 436.21,256.42 436.69,259.08 437.18,257.02 437.66,252.27 438.15,258.77 438.63,250.90 439.11,255.90 439.60,256.11 440.08,254.06 440.57,254.14 441.05,253.70 441.53,255.31 442.02,259.02 442.50,251.81 442.99,257.60 443.47,259.83 443.95,254.18 444.44,254.98 444.92,257.19 445.41,256.84 445.89,255.17 446.37,250.79 446.86,257.31 447.34,261.16 447.83,258.90 448.31,255.38 448.79,257.69 449.28,259.19 449.76,254.65 450.25,254.61 450.73,257.67 451.21,256.07 451.70,259.07 452.18,258.97 452.67,258.09 453.15,261.41 453.63,255.87 454.12,257.23 454.60,258.62 455.09,256.62 455.57,256.53 456.06,259.39 456.54,258.89 457.02,259.54 457.51,252.56 457.99,262.43 458.48,257.22 458.96,254.24 459.44,260.49 459.93,260.09 460.41,260.15 460.90,262.85 461.38,253.15 461.86,257.81 462.35,260.66 462.83,259.15 463.32,256.53" fill="none" stroke="#000" stroke-width="0.9" stroke-linejoin="round" />
<polyline points="337.95,259.67 338.43,259.55 338.92,259.43 339.40,259.29 339.88,259.14 340.37,258.97 340.85,258.80 341.34,258.60 341.82,258.39 342.30,258.16 342.79,257.91 343.27,257.63 343.76,257.34 344.24,257.02 344.72,256.67 345.21,256.30 345.69,255.90 346.18,255.46 346.66,255.00 347.14,254.50 347.63,253.96 348.11,253.39 348.60,252.78 349.08,252.12 349.56,251.43 350.05,250.68 350.53,249.90 351.02,249.06 351.50,248.18 351.98,247.25 352.47,246.27 352.95,245.23 353.44,244.15 353.92,243.01 354.40,241.82 354.89,240.57 355.37,239.27 355.86,237.92 356.34,236.52 356.83,235.06 357.31,233.56 357.79,232.00 358.28,230.40 358.76,228.75 359.25,227.07 359.73,225.34 360.21,223.57 360.70,221.77 361.18,219.95 361.67,218.09 362.15,216.22 362.63,214.33 363.12,212.42 363.60,210.51 364.09,208.60 364.57,206.70 365.05,204.80 365.54,202.92 366.02,201.07 366.51,199.24 366.99,197.44 367.47,195.69 367.96,193.99 368.44,192.34 368.93,190.75 369.41,189.23 369.89,187.79 370.38,186.42 370.86,185.14 371.35,183.94 371.83,182.85 372.31,181.85 372.80,180.96 373.28,180.18 373.77,179.51 374.25,178.95 374.73,178.51 375.22,178.20 375.70,178.00 376.19,177.93 376.67,177.98 377.16,178.15 377.64,178.45 378.12,178.86 378.61,179.39 379.09,180.04 379.58,180.80 380.06,181.67 380.54,182.64 381.03,183.72 381.51,184.89 382.00,186.15 382.48,187.49 382.96,188.92 383.45,190.41 383.93,191.98 384.42,193.60 384.90,195.28 385.38,197.01 385.87,198.78 386.35,200.59 386.84,202.42 387.32,204.28 387.80,206.15 388.29,208.04 388.77,209.92 389.26,211.81 389.74,213.69 390.22,215.56 390.71,217.41 391.19,219.24 391.68,221.05 392.16,222.82 392.64,224.57 393.13,226.27 393.61,227.94 394.10,229.56 394.58,231.14 395.07,232.67 395.55,234.15 396.03,235.59 396.52,236.97 397.00,238.30 397.49,239.57 397.97,240.80 398.45,241.96 398.94,243.08 399.42,244.14 399.91,245.16 400.39,246.12 400.87,247.02 401.36,247.88 401.84,248.69 402.33,249.46 402.81,250.18 403.29,250.85 403.78,251.48 404.26,252.07 404.75,252.62 405.23,253.14 405.71,253.61 406.20,254.06 406.68,254.47 407.17,254.85 407.65,255.20 408.13,255.52 408.62,255.82 409.10,256.09 409.59,256.34 410.07,256.57 410.55,256.78 411.04,256.97 411.52,257.14 412.01,257.29 412.49,257.44 412.97,257.56 413.46,257.68 413.94,257.78 414.43,257.88 414.91,257.96 415.40,258.03 415.88,258.10 416.36,258.16 416.85,258.21 417.33,258.25 417.82,258.29 418.30,258.33 418.78,258.36 419.27,258.38 419.75,258.41 420.24,258.42 420.72,258.44 421.20,258.45 421.69,258.46 422.17,258.47" fill="none" stroke="#ff1a1a" stroke-width="1.1" stroke-linejoin="round" />
<polyline points="341.34,260.64 341.82,260.60 342.30,260.55 342.79,260.49 343.27,260.41 343.76,260.31 344.24,260.18 344.72,260.02 345.21,259.82 345.69,259.56 346.18,259.24 346.66,258.85 347.14,258.38 347.63,257.80 348.11,257.12 348.60,256.32 349.08,255.38 349.56,254.31 350.05,253.08 350.53,251.72 351.02,250.20 351.50,248.55 351.98,246.78 352.47,244.90 352.95,242.94 353.44,240.93 353.92,238.92 354.40,236.94 354.89,235.03 355.37,233.24 355.86,231.61 356.34,230.20 356.83,229.03 357.31,228.14 357.79,227.56 358.28,227.30 358.76,227.37 359.25,227.77 359.73,228.48 360.21,229.49 360.70,230.77 361.18,232.27 361.67,233.96 362.15,235.79 362.63,237.72 363.12,239.70 363.60,241.70 364.09,243.66 364.57,245.56 365.05,247.37 365.54,249.06 366.02,250.62 366.51,252.04 366.99,253.31 367.47,254.44 367.96,255.42 368.44,256.26 368.93,256.98 369.41,257.59 369.89,258.09 370.38,258.49 370.86,258.82 371.35,259.09 371.83,259.29 372.31,259.45 372.80,259.57 373.28,259.66 373.77,259.73" fill="none" stroke="#ff00e6" stroke-width="1.1" stroke-linejoin="round" />
<polyline points="374.25,259.55 374.73,259.52 375.22,259.48 375.70,259.45 376.19,259.41 376.67,259.36 377.16,259.32 377.64,259.26 378.12,259.21 378.61,259.14 379.09,259.07 379.58,259.00 380.06,258.91 380.54,258.82 381.03,258.72 381.51,258.60 382.00,258.48 382.48,258.34 382.96,258.19 383.45,258.02 383.93,257.83 384.42,257.63 384.90,257.41 385.38,257.17 385.87,256.91 386.35,256.63 386.84,256.32 387.32,255.99 387.80,255.64 388.29,255.26 388.77,254.85 389.26,254.42 389.74,253.96 390.22,253.48 390.71,252.97 391.19,252.44 391.68,251.88 392.16,251.30 392.64,250.70 393.13,250.08 393.61,249.44 394.10,248.79 394.58,248.12 395.07,247.45 395.55,246.77 396.03,246.10 396.52,245.42 397.00,244.76 397.49,244.10 397.97,243.46 398.45,242.85 398.94,242.26 399.42,241.70 399.91,241.18 400.39,240.70 400.87,240.26 401.36,239.88 401.84,239.55 402.33,239.28 402.81,239.07 403.29,238.93 403.78,238.85 404.26,238.84 404.75,238.90 405.23,239.02 405.71,239.20 406.20,239.45 406.68,239.76 407.17,240.12 407.65,240.53 408.13,240.98 408.62,241.48 409.10,242.02 409.59,242.59 410.07,243.18 410.55,243.79 411.04,244.43 411.52,245.07 412.01,245.72 412.49,246.38 412.97,247.03 413.46,247.68 413.94,248.32 414.43,248.95 414.91,249.56 415.40,250.16 415.88,250.74 416.36,251.30 416.85,251.83 417.33,252.35 417.82,252.83 418.30,253.29 418.78,253.73 419.27,254.14 419.75,254.52 420.24,254.88 420.72,255.21 421.20,255.52 421.69,255.80 422.17,256.06 422.66,256.30 423.14,256.51 423.62,256.71 424.11,256.89 424.59,257.05 425.08,257.20 425.56,257.33 426.04,257.44 426.53,257.55 427.01,257.64 427.50,257.72 427.98,257.79 428.46,257.85 428.95,257.90 429.43,257.95" fill="none" stroke="#1a1aff" stroke-width="1.1" stroke-linejoin="round" />
<polyline points="341.34,260.70 341.82,260.69 342.30,260.68 342.79,260.67 343.27,260.66 343.76,260.64 344.24,260.63 344.72,260.62 345.21,260.61 345.69,260.60 346.18,260.59 346.66,260.58 347.14,260.56 347.63,260.55 348.11,260.54 348.60,260.53 349.08,260.52 349.56,260.51 350.05,260.50 350.53,260.48 351.02,260.47 351.50,260.46 351.98,260.45 352.47,260.44 352.95,260.43 353.44,260.42 353.92,260.41 354.40,260.39 354.89,260.38 355.37,260.37 355.86,260.36 356.34,260.35 356.83,260.34 357.31,260.33 357.79,260.31 358.28,260.30 358.76,260.29 359.25,260.28 359.73,260.27 360.21,260.26 360.70,260.25 361.18,260.23 361.67,260.22 362.15,260.21 362.63,260.20 363.12,260.19 363.60,260.18 364.09,260.17 364.57,260.16 365.05,260.14 365.54,260.13 366.02,260.12 366.51,260.11 366.99,260.10 367.47,260.09 367.96,260.08 368.44,260.06 368.93,260.05 369.41,260.04 369.89,260.03 370.38,260.02 370.86,260.01 371.35,260.00 371.83,259.99 372.31,259.97 372.80,259.96 373.28,259.95 373.77,259.94 374.25,259.93 374.73,259.92 375.22,259.91 375.70,259.89 376.19,259.88 376.67,259.87 377.16,259.86 377.64,259.85 378.12,259.84 378.61,259.83 379.09,259.81 379.58,259.80 380.06,259.79 380.54,259.78 381.03,259.77 381.51,259.76 382.00,259.75 382.48,259.74 382.96,259.72 383.45,259.71 383.93,259.70 384.42,259.69 384.90,259.68 385.38,259.67 385.87,259.66 386.35,259.64 386.84,259.63 387.32,259.62 387.80,259.61 388.29,259.60 388.77,259.59 389.26,259.58 389.74,259.57 390.22,259.55 390.71,259.54 391.19,259.53 391.68,259.52 392.16,259.51 392.64,259.50 393.13,259.49 393.61,259.47 394.10,259.46 394.58,259.45 395.07,259.44 395.55,259.43 396.03,259.42 396.52,259.41 397.00,259.39 397.49,259.38 397.97,259.37 398.45,259.36 398.94,259.35 399.42,259.34 399.91,259.33 400.39,259.32 400.87,259.30 401.36,259.29 401.84,259.28 402.33,259.27 402.81,259.26 403.29,259.25 403.78,259.24 404.26,259.22 404.75,259.21 405.23,259.20 405.71,259.19 406.20,259.18 406.68,259.17 407.17,259.16 407.65,259.15 408.13,259.13 408.62,259.12 409.10,259.11 409.59,259.10 410.07,259.09 410.55,259.08 411.04,259.07 411.52,259.05 412.01,259.04 412.49,259.03 412.97,259.02 413.46,259.01 413.94,259.00 414.43,258.99 414.91,258.97 415.40,258.96 415.88,258.95 416.36,258.94 416.85,258.93 417.33,258.92 417.82,258.91 418.30,258.90 418.78,258.88 419.27,258.87 419.75,258.86 420.24,258.85 420.72,258.84 421.20,258.83 421.69,258.82 422.17,258.80 422.66,258.79 423.14,258.78 423.62,258.77 424.11,258.76 424.59,258.75" fill="none" stroke="#0a9a1e" stroke-width="1.1" stroke-linejoin="round" />
<polyline points="306.00,261.39 306.48,261.38 306.97,261.36 307.45,261.35 307.94,261.34 308.42,261.33 308.90,261.31 309.39,261.30 309.87,261.29 310.36,261.27 310.84,261.26 311.32,261.24 311.81,261.23 312.29,261.22 312.78,261.20 313.26,261.19 313.74,261.18 314.23,261.16 314.71,261.15 315.20,261.14 315.68,261.12 316.17,261.11 316.65,261.09 317.13,261.08 317.62,261.06 318.10,261.05 318.59,261.04 319.07,261.02 319.55,261.01 320.04,260.99 320.52,260.98 321.01,260.96 321.49,260.94 321.97,260.93 322.46,260.91 322.94,260.90 323.43,260.88 323.91,260.86 324.39,260.84 324.88,260.83 325.36,260.81 325.85,260.79 326.33,260.77 326.81,260.75 327.30,260.73 327.78,260.70 328.27,260.68 328.75,260.66 329.23,260.63 329.72,260.60 330.20,260.57 330.69,260.54 331.17,260.51 331.65,260.47 332.14,260.43 332.62,260.39 333.11,260.34 333.59,260.29 334.07,260.24 334.56,260.18 335.04,260.12 335.53,260.05 336.01,259.97 336.50,259.89 336.98,259.80 337.46,259.70 337.95,259.59 338.43,259.47 338.92,259.34 339.40,259.20 339.88,259.04 340.37,258.87 340.85,258.67 341.34,258.46 341.82,258.21 342.30,257.95 342.79,257.64 343.27,257.30 343.76,256.92 344.24,256.48 344.72,255.98 345.21,255.42 345.69,254.77 346.18,254.03 346.66,253.18 347.14,252.21 347.63,251.11 348.11,249.87 348.60,248.46 349.08,246.88 349.56,245.12 350.05,243.17 350.53,241.02 351.02,238.68 351.50,236.16 351.98,233.46 352.47,230.61 352.95,227.63 353.44,224.55 353.92,221.41 354.40,218.25 354.89,215.11 355.37,212.04 355.86,209.08 356.34,206.28 356.83,203.69 357.31,201.32 357.79,199.22 358.28,197.41 358.76,195.88 359.25,194.65 359.73,193.70 360.21,193.01 360.70,192.56 361.18,192.32 361.67,192.24 362.15,192.29 362.63,192.42 363.12,192.59 363.60,192.75 364.09,192.89 364.57,192.95 365.05,192.92 365.54,192.78 366.02,192.51 366.51,192.11 366.99,191.59 367.47,190.95 367.96,190.19 368.44,189.34 368.93,188.42 369.41,187.43 369.89,186.41 370.38,185.37 370.86,184.34 371.35,183.33 371.83,182.36 372.31,181.44 372.80,180.60 373.28,179.85 373.77,179.18 374.25,178.62 374.73,178.16 375.22,177.82 375.70,177.60 376.19,177.49 376.67,177.50 377.16,177.63 377.64,177.88 378.12,178.24 378.61,178.72 379.09,179.31 379.58,180.00 380.06,180.79 380.54,181.68 381.03,182.67 381.51,183.73 382.00,184.88 382.48,186.10 382.96,187.38 383.45,188.72 383.93,190.11 384.42,191.55 384.90,193.02 385.38,194.52 385.87,196.04 386.35,197.57 386.84,199.11 387.32,200.65 387.80,202.18 388.29,203.69 388.77,205.19 389.26,206.65 389.74,208.09 390.22,209.48 390.71,210.84 391.19,212.15 391.68,213.41 392.16,214.61 392.64,215.76 393.13,216.86 393.61,217.90 394.10,218.88 394.58,219.81 395.07,220.68 395.55,221.50 396.03,222.27 396.52,222.98 397.00,223.66 397.49,224.29 397.97,224.89 398.45,225.45 398.94,225.99 399.42,226.50 399.91,227.01 400.39,227.50 400.87,227.98 401.36,228.47 401.84,228.97 402.33,229.47 402.81,229.99 403.29,230.53 403.78,231.10 404.26,231.69 404.75,232.31 405.23,232.95 405.71,233.63 406.20,234.33 406.68,235.05 407.17,235.81 407.65,236.58 408.13,237.37 408.62,238.18 409.10,239.00 409.59,239.82 410.07,240.66 410.55,241.49 411.04,242.33 411.52,243.15 412.01,243.97 412.49,244.78 412.97,245.57 413.46,246.35 413.94,247.11 414.43,247.84 414.91,248.55 415.40,249.23 415.88,249.89 416.36,250.52 416.85,251.11 417.33,251.68 417.82,252.22 418.30,252.73 418.78,253.20 419.27,253.65 419.75,254.06 420.24,254.45 420.72,254.81 421.20,255.14 421.69,255.45 422.17,255.73 422.66,255.98 423.14,256.22 423.62,256.43 424.11,256.62 424.59,256.79 425.08,256.95 425.56,257.09 426.04,257.21 426.53,257.32 427.01,257.42 427.50,257.51 427.98,257.59 428.46,257.65 428.95,257.71 429.43,257.76 429.92,257.81 430.40,257.85 430.88,257.88 431.37,257.91 431.85,257.93 432.34,257.95 432.82,257.97 433.30,257.99 433.79,258.00 434.27,258.01 434.76,258.02 435.24,258.02 435.73,258.03 436.21,258.03 436.69,258.03 437.18,258.03 437.66,258.03 438.15,258.03 438.63,258.03 439.11,258.03 439.60,258.03 440.08,258.02 440.57,258.02 441.05,258.02 441.53,258.01 442.02,258.01 442.50,258.01 442.99,258.00 443.47,258.00 443.95,257.99 444.44,257.98 444.92,257.98 445.41,257.97 445.89,257.97 446.37,257.96 446.86,257.95 447.34,257.95 447.83,257.94 448.31,257.94 448.79,257.93 449.28,257.92 449.76,257.91 450.25,257.91 450.73,257.90 451.21,257.89 451.70,257.88 452.18,257.88 452.67,257.87 453.15,257.86 453.63,257.85 454.12,257.85 454.60,257.84 455.09,257.83 455.57,257.82 456.06,257.81 456.54,257.80 457.02,257.80 457.51,257.79 457.99,257.78 458.48,257.77 458.96,257.76 459.44,257.75 459.93,257.74 460.41,257.74 460.90,257.73 461.38,257.72 461.86,257.71 462.35,257.70 462.83,257.69 463.32,257.68" fill="none" stroke="#101090" stroke-width="1.25" stroke-linejoin="round" />
<line x1="337.00" y1="198.00" x2="357.30" y2="226.50" stroke="#00d8c8" stroke-width="1.4"/>
<line x1="377.50" y1="177.50" x2="394.50" y2="175.00" stroke="#ff70e0" stroke-width="1.3"/>
<line x1="415.50" y1="211.20" x2="405.50" y2="237.50" stroke="#0a9ae0" stroke-width="1.4"/>
<rect x="306.00" y="159.20" width="157.80" height="116.70" fill="none" stroke="#000" stroke-width="1.2"/>
<line x1="306.00" y1="275.90" x2="306.00" y2="278.30" stroke="#000" stroke-width="1.0"/>
<text x="306.00" y="286.20" font-size="8.5" text-anchor="middle" font-weight="normal" fill="#111" stroke="#111" stroke-width="0.2" >525</text>
<line x1="366.51" y1="275.90" x2="366.51" y2="278.30" stroke="#000" stroke-width="1.0"/>
<text x="366.51" y="286.20" font-size="8.5" text-anchor="middle" font-weight="normal" fill="#111" stroke="#111" stroke-width="0.2" >530</text>
<line x1="427.01" y1="275.90" x2="427.01" y2="278.30" stroke="#000" stroke-width="1.0"/>
<text x="427.01" y="286.20" font-size="8.5" text-anchor="middle" font-weight="normal" fill="#111" stroke="#111" stroke-width="0.2" >535</text>
<line x1="336.25" y1="275.90" x2="336.25" y2="277.40" stroke="#000" stroke-width="1.0"/>
<line x1="396.76" y1="275.90" x2="396.76" y2="277.40" stroke="#000" stroke-width="1.0"/>
<line x1="457.27" y1="275.90" x2="457.27" y2="277.40" stroke="#000" stroke-width="1.0"/>
<line x1="306.00" y1="275.90" x2="303.60" y2="275.90" stroke="#000" stroke-width="1.0"/>
<text x="300.60" y="278.70" font-size="8.5" text-anchor="end" font-weight="normal" fill="#111" stroke="#111" stroke-width="0.2" >9</text>
<line x1="306.00" y1="256.48" x2="303.60" y2="256.48" stroke="#000" stroke-width="1.0"/>
<text x="303.20" y="259.88" font-size="8.5" text-anchor="end" font-weight="normal" fill="#111" stroke="#111" stroke-width="0.2" >10</text>
<line x1="306.00" y1="237.06" x2="303.60" y2="237.06" stroke="#000" stroke-width="1.0"/>
<text x="303.20" y="240.46" font-size="8.5" text-anchor="end" font-weight="normal" fill="#111" stroke="#111" stroke-width="0.2" >11</text>
<line x1="306.00" y1="217.64" x2="303.60" y2="217.64" stroke="#000" stroke-width="1.0"/>
<text x="303.20" y="221.04" font-size="8.5" text-anchor="end" font-weight="normal" fill="#111" stroke="#111" stroke-width="0.2" >12</text>
<line x1="306.00" y1="198.22" x2="303.60" y2="198.22" stroke="#000" stroke-width="1.0"/>
<text x="303.20" y="201.62" font-size="8.5" text-anchor="end" font-weight="normal" fill="#111" stroke="#111" stroke-width="0.2" >13</text>
<line x1="306.00" y1="178.80" x2="303.60" y2="178.80" stroke="#000" stroke-width="1.0"/>
<text x="303.20" y="182.20" font-size="8.5" text-anchor="end" font-weight="normal" fill="#111" stroke="#111" stroke-width="0.2" >14</text>
<line x1="306.00" y1="159.38" x2="303.60" y2="159.38" stroke="#000" stroke-width="1.0"/>
<text x="303.20" y="162.78" font-size="8.5" text-anchor="end" font-weight="normal" fill="#111" stroke="#111" stroke-width="0.2" >15</text>
<line x1="306.00" y1="266.19" x2="304.50" y2="266.19" stroke="#000" stroke-width="1.0"/>
<line x1="306.00" y1="246.77" x2="304.50" y2="246.77" stroke="#000" stroke-width="1.0"/>
<line x1="306.00" y1="227.35" x2="304.50" y2="227.35" stroke="#000" stroke-width="1.0"/>
<line x1="306.00" y1="207.93" x2="304.50" y2="207.93" stroke="#000" stroke-width="1.0"/>
<line x1="306.00" y1="188.51" x2="304.50" y2="188.51" stroke="#000" stroke-width="1.0"/>
<line x1="306.00" y1="169.09" x2="304.50" y2="169.09" stroke="#000" stroke-width="1.0"/>
<text x="384.90" y="295.30" font-size="9.2" text-anchor="middle" font-weight="normal" fill="#111" stroke="#111" stroke-width="0.2" >Binding energy (ev)</text>
<text transform="translate(288.80,218.00) rotate(-90)" font-size="9.2" text-anchor="middle" fill="#111" stroke="#111" stroke-width="0.2">Intensity (a.u.)</text>
<text x="278.60" y="162.80" font-size="13" text-anchor="start" font-weight="bold" fill="#000" stroke="#000" stroke-width="0.2" >e</text>
<text x="450.80" y="169.30" font-size="9.0" text-anchor="start" font-weight="normal" fill="#111" stroke="#111" stroke-width="0.2" >O</text>
<text x="321.20" y="196.00" font-size="9.0" text-anchor="start" font-weight="normal" fill="#111" stroke="#111" stroke-width="0.2" >529.2</text>
<text x="395.80" y="179.00" font-size="9.0" text-anchor="start" font-weight="normal" fill="#111" stroke="#111" stroke-width="0.2" >530.8</text>
<text x="408.00" y="209.00" font-size="9.0" text-anchor="start" font-weight="normal" fill="#111" stroke="#111" stroke-width="0.2" >533.1</text>
</svg>
</body></html>
